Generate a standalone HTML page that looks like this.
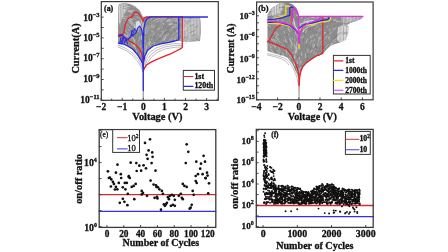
<!DOCTYPE html>
<html><head><meta charset="utf-8"><title>Figure</title>
<style>
html,body{margin:0;padding:0;background:#fff;width:448px;height:252px;overflow:hidden}
svg{display:block}
text{font-family:'Liberation Serif', serif;fill:#111;stroke:#111;stroke-width:0.3px;paint-order:stroke}
</style></head><body>
<svg width="448" height="252" viewBox="0 0 448 252">
<rect width="448" height="252" fill="#fff"/>
<path d="M118 45 L126 48.5 L133 53.5 L138.5 59.5 L142 66 L143.2 71" fill="none" stroke="#a2a2a2" stroke-width="0.7" stroke-linejoin="round" stroke-linecap="round" />
<path d="M118 46.8 L126 50.5 L132 55 L137 60.5 L140.6 66 L143 72" fill="none" stroke="#a2a2a2" stroke-width="0.7" stroke-linejoin="round" stroke-linecap="round" />
<path d="M182 44 L175 43.5 L165 45 L156 48 L149.5 52.5 L146 58 L144.2 65" fill="none" stroke="#a2a2a2" stroke-width="0.7" stroke-linejoin="round" stroke-linecap="round" />
<path d="M182 45.5 L175 45.3 L165 47 L157 50 L151 54.5 L147 60 L144.6 67" fill="none" stroke="#a2a2a2" stroke-width="0.7" stroke-linejoin="round" stroke-linecap="round" />
<path d="M182 47 L175 47.2 L165 49 L158 52 L152 56.5 L148 62 L145 68" fill="none" stroke="#a2a2a2" stroke-width="0.7" stroke-linejoin="round" stroke-linecap="round" />
<path d="M143.3 60 L143.3 98.5" fill="none" stroke="#a8a8a8" stroke-width="1.4" stroke-linejoin="round" stroke-linecap="round" />
<polygon points="143.3,68 142.7,64.5 140.8,60.3 137.7,55.3 132.5,49.5 127.7,46.5 123.4,44.5 118.2,43.5 118,30 118,10 118.8,4.3 123.5,3.3 129.2,3.8 135,6.2 139.7,10.5 142.6,16.2 143.6,17 200,17 201,30 200,41 192,41.5 182,41.5 179.4,40.5 177.7,40.5 174.9,41 169.1,42.4 160.6,43.9 153.4,46 147.7,50.3 144.9,56 143.4,63.1" fill="#8f8f8f" />
<polygon points="181,17 200,17 201,30 199.5,40 196,41.5 194,40 190,42 186,40.5 183,42 181,41" fill="#b0b0b0" />
<path d="M183 19 L183.3 36.9" fill="none" stroke="#e4e4e4" stroke-width="0.6" stroke-linejoin="round" stroke-linecap="round" />
<path d="M186 19 L186.3 36.4" fill="none" stroke="#e4e4e4" stroke-width="0.6" stroke-linejoin="round" stroke-linecap="round" />
<path d="M189 19 L189.3 36.0" fill="none" stroke="#e4e4e4" stroke-width="0.6" stroke-linejoin="round" stroke-linecap="round" />
<path d="M192 19 L192.3 35.5" fill="none" stroke="#e4e4e4" stroke-width="0.6" stroke-linejoin="round" stroke-linecap="round" />
<path d="M195 19 L195.3 35.0" fill="none" stroke="#e4e4e4" stroke-width="0.6" stroke-linejoin="round" stroke-linecap="round" />
<path d="M198 19 L198.3 34.6" fill="none" stroke="#e4e4e4" stroke-width="0.6" stroke-linejoin="round" stroke-linecap="round" />
<polygon points="119,5 121.5,3.2 127.5,3.6 127.5,9 124,14 121,22 118.5,26 118,10" fill="#b0b0b0" />
<path d="M119.5 6 L119.8 24" fill="none" stroke="#e8e8e8" stroke-width="0.7" stroke-linejoin="round" stroke-linecap="round" />
<path d="M122 5 L122.3 18" fill="none" stroke="#e8e8e8" stroke-width="0.7" stroke-linejoin="round" stroke-linecap="round" />
<path d="M124.5 4.5 L124.6 12" fill="none" stroke="#e8e8e8" stroke-width="0.7" stroke-linejoin="round" stroke-linecap="round" />
<path d="M136 22 L138 28" fill="none" stroke="#e8e8e8" stroke-width="0.7" stroke-linejoin="round" stroke-linecap="round" />
<path d="M134 25 L136 31" fill="none" stroke="#e8e8e8" stroke-width="0.7" stroke-linejoin="round" stroke-linecap="round" />
<path d="M162.5 27.0L162.5 27.9M125.1 30.4L125.0 31.6M126.6 40.3L127.5 40.9M148.0 19.4L147.3 20.2M128.7 19.3L127.6 20.2M175.3 36.7L174.5 38.4M165.0 38.0L164.4 40.4M130.3 19.6L130.8 21.0M193.5 25.6L192.0 26.9M130.4 12.5L132.0 13.6M145.1 36.8L143.9 38.2M133.9 6.0L134.0 7.0M125.4 7.0L125.8 9.0M140.5 55.3L142.8 56.4M151.6 25.8L152.3 26.3M141.2 45.7L140.4 46.7M129.6 37.2L128.3 38.4M159.0 28.1L158.3 29.5M176.4 18.3L176.5 20.7M151.7 18.7L151.0 20.3M129.6 15.7L129.9 16.6M144.5 27.1L146.0 28.8M149.9 45.1L150.6 46.5" stroke="#c8c8c8" stroke-width="0.55" fill="none" stroke-linecap="round"/>
<path d="M136.5 43.9L136.1 46.4M122.1 17.6L123.5 18.7M159.2 37.7L159.4 39.9M166.1 32.8L164.1 33.9M178.7 23.3L177.9 25.0M141.6 28.3L143.5 29.0M131.8 29.3L132.8 30.1M189.7 21.3L190.2 22.8M164.4 29.1L164.5 30.6M137.9 29.2L139.4 30.9M152.6 28.7L152.0 29.9M178.8 39.0L178.9 40.1M138.1 22.3L139.3 23.4M143.7 26.4L143.9 27.1M125.1 6.0L123.3 6.9M159.7 37.9L161.5 38.9M140.0 50.5L139.4 51.5M174.1 22.1L174.2 23.8M174.6 29.5L175.0 31.6M144.2 57.7L143.8 58.3M154.2 23.7L152.8 25.4M196.1 38.8L197.9 39.8M131.9 13.8L130.9 14.4M163.7 32.6L162.9 33.7M180.2 30.0L180.1 31.5M130.8 37.1L129.0 38.1M176.5 23.2L176.5 24.0M124.7 18.0L125.2 19.5" stroke="#6e6e6e" stroke-width="0.55" fill="none" stroke-linecap="round"/>
<path d="M130.0 10.9L129.0 11.9M125.1 9.9L125.9 11.1M182.1 37.8L183.0 39.8M148.3 17.6L149.1 18.5M177.9 33.3L179.7 34.4M132.1 11.5L131.2 12.1M168.8 41.9L167.3 42.6M171.9 37.4L172.3 39.8M185.6 36.7L183.8 38.1M162.1 37.2L162.3 38.0M139.5 39.5L137.7 41.2M151.1 34.8L149.2 36.6M160.9 22.4L163.0 23.9M143.5 17.2L144.4 18.1M177.8 35.3L177.4 36.5M186.6 41.1L185.6 43.3M187.4 39.4L186.8 41.3M158.0 34.7L160.2 36.2M198.4 32.4L199.2 33.4M171.5 21.8L170.7 22.3M128.4 35.9L126.9 37.1M161.8 33.6L160.8 34.8M120.8 25.2L120.2 26.6" stroke="#b4b4b4" stroke-width="0.55" fill="none" stroke-linecap="round"/>
<path d="M165.7 37.3L164.4 39.3M124.4 39.4L122.9 41.0M147.5 42.8L148.6 44.1M123.2 7.7L124.0 8.5M127.6 34.9L127.7 37.4M120.3 21.4L119.7 22.5M180.3 34.2L179.5 35.1M138.9 22.3L138.6 23.5M154.8 42.9L154.7 44.6M151.5 30.6L152.7 31.3M119.6 39.1L121.1 39.8M182.7 20.8L182.9 21.8M151.7 38.0L151.7 39.7M125.4 20.2L126.5 21.6M189.6 32.7L189.4 34.1M198.4 20.2L197.5 20.8M118.3 26.9L117.0 27.4M124.4 12.8L123.7 13.9M163.6 23.5L163.6 24.4M124.2 9.1L125.4 10.9M132.2 30.1L132.9 31.2M140.4 52.0L140.1 53.6M118.1 11.4L119.8 12.2M161.8 31.6L163.6 32.8" stroke="#dedede" stroke-width="0.55" fill="none" stroke-linecap="round"/>
<path d="M132.6 18.3L132.7 19.5M133.1 21.5L133.0 22.6M197.0 26.7L195.3 27.8M142.7 44.9L142.0 45.5M155.5 37.8L154.1 38.6M153.9 35.3L154.5 37.6M173.2 27.9L171.7 28.6M119.9 23.0L119.6 24.2M142.1 27.4L140.6 27.9M128.6 30.8L127.1 32.4M161.5 41.0L162.5 42.2M144.3 57.6L144.2 58.8" stroke="#7a7a7a" stroke-width="0.55" fill="none" stroke-linecap="round"/>
<path d="M158.3 20.2L155.3 22.3M169.3 27.5L167.1 28.8M122.5 30.7L124.5 32.7M191.8 32.2L188.0 33.2M139.3 32.5L139.4 35.0M194.9 30.6L191.7 31.7M156.8 27.0L154.3 30.4M168.9 30.6L165.4 32.5M195.5 34.3L192.5 35.5M184.8 28.3L180.9 29.4M136.7 39.9L137.1 42.4M124.4 40.4L127.6 43.1M198.6 25.6L196.1 26.6M125.3 41.5L126.8 43.1M163.3 19.0L159.0 20.0M128.0 41.6L130.3 45.0M135.9 45.0L137.2 48.6M169.5 18.3L167.2 18.6M187.5 36.9L184.4 37.8M132.5 15.2L136.6 15.5M159.5 19.5L155.2 20.3M165.9 25.9L162.9 27.8M157.5 40.4L155.1 44.1M144.1 55.3L143.7 59.8M152.1 41.4L151.1 44.6M138.0 33.1L138.7 35.8M174.2 33.6L171.7 35.4M165.2 34.5L162.7 37.0M126.7 36.4L128.4 38.1M134.6 48.7L135.7 51.1M147.3 39.8L147.2 41.8M122.6 8.5L125.3 8.5M151.7 36.8L150.4 40.9M189.4 21.1L185.2 21.9M141.1 39.8L141.4 42.4M193.6 24.9L189.6 25.8M156.9 19.4L154.3 20.6M134.7 34.3L135.6 38.3M188.5 22.9L185.3 23.3M137.5 36.6L137.7 38.5M122.5 39.9L124.7 43.1M153.7 19.4L152.0 20.1M171.7 32.7L170.3 34.0M156.0 24.6L154.1 26.8M133.8 19.7L135.7 21.5M140.4 18.1L141.7 20.8M138.9 51.0L139.3 54.1M193.0 18.0L189.1 18.9M141.9 56.9L142.7 61.2M176.7 24.8L173.8 26.3M163.6 41.1L162.3 42.6M145.6 39.0L145.8 41.4M176.3 24.8L174.2 25.7" stroke="#707070" stroke-width="0.5" fill="none" stroke-linecap="round"/>
<path d="M148.1 29.8L147.4 33.4M173.0 23.5L170.2 24.9M180.0 20.5L176.1 21.3M119.5 38.1L122.7 40.5M175.6 20.5L171.3 21.3M124.3 18.3L128.6 19.2M192.1 32.5L188.4 33.7M179.3 25.1L175.5 27.2M128.6 26.0L130.0 27.8M141.8 32.0L142.6 36.0M157.9 20.8L154.5 23.2M132.6 10.3L134.4 10.6M180.7 17.3L176.3 17.9M195.5 25.0L191.4 25.7M173.4 33.6L171.9 34.7M126.6 32.1L130.2 34.9M174.3 34.4L172.7 35.8M164.2 19.8L161.6 20.3M141.5 35.4L141.5 39.6M134.0 14.8L137.6 14.3M198.4 17.6L195.1 18.1M172.2 20.0L169.3 21.0M123.4 37.9L124.7 39.2M145.1 44.6L145.0 47.9M172.9 28.6L170.2 29.9M126.3 8.0L128.7 8.3M130.1 27.8L131.4 29.8M121.6 15.8L124.1 16.3M184.7 27.4L181.4 29.1M195.7 28.1L191.9 29.8M176.4 32.6L174.0 33.7M119.4 6.9L121.4 6.6M128.2 10.3L132.3 10.3M193.3 19.9L189.1 19.9M152.9 21.6L151.0 23.3M133.2 18.6L136.0 20.1M120.2 12.9L124.3 13.0M129.7 35.2L131.4 39.0M197.5 20.6L195.1 20.6M153.4 30.8L152.0 32.9M131.4 22.9L134.6 25.8M131.2 10.7L133.6 10.8M123.9 22.8L127.5 25.4M133.6 6.8L135.4 6.9M143.8 25.2L143.7 29.7M125.4 30.7L127.4 32.6M127.9 40.3L129.3 42.2M162.1 24.6L160.5 25.6M147.2 25.4L146.0 28.6M160.5 35.9L158.0 38.6M154.9 24.4L153.1 26.3M178.4 30.5L175.9 31.8M198.5 25.7L195.8 26.3M178.6 20.5L174.5 20.9M182.2 28.1L178.3 29.5M143.8 41.9L143.4 46.1M173.3 34.4L171.8 35.5M158.2 18.9L154.5 20.3" stroke="#bdbdbd" stroke-width="0.5" fill="none" stroke-linecap="round"/>
<path d="M126.1 6.3L130.1 6.8M190.7 37.1L188.8 38.2M133.2 42.8L134.6 46.1M129.3 18.4L132.9 19.7M146.0 19.6L145.3 22.3M134.3 27.3L136.0 29.4M189.5 31.6L186.6 33.1M141.1 20.9L142.6 25.1M136.1 50.4L136.6 52.4M154.4 17.5L152.5 17.7M174.9 26.1L171.8 28.0M182.3 38.4L180.3 39.6M127.9 29.1L129.2 30.5M150.5 41.3L149.3 45.0M168.4 34.4L165.5 36.5M146.8 45.4L146.2 48.6M187.0 28.3L185.3 28.8M152.5 24.4L150.8 26.1M122.1 17.7L124.9 18.7M172.1 23.7L169.4 24.5M189.8 39.7L187.8 40.6M129.4 22.1L132.5 25.0M140.3 24.1L140.9 27.3M161.5 19.4L159.4 20.3M184.8 29.2L182.9 29.7M165.1 17.9L161.2 18.3M130.7 21.2L132.8 22.4M178.0 23.9L175.6 25.2M134.2 44.4L135.2 46.2M141.3 18.9L142.3 21.5M157.2 19.0L153.5 21.1M169.7 19.7L166.9 20.9M142.2 35.8L142.0 38.4M180.0 18.3L177.8 18.3M145.4 39.7L145.0 41.9M124.0 33.4L125.7 35.6M160.2 27.4L157.6 30.0M169.4 20.8L166.9 21.3M175.9 38.8L174.2 39.6M181.1 22.1L177.3 22.8M184.8 28.6L181.4 29.3M187.3 22.8L184.2 23.2M143.6 26.7L143.5 28.7M145.8 29.5L145.4 33.7M133.7 45.8L135.5 48.7M164.3 17.3L162.2 17.8M154.7 26.0L152.9 28.5M159.9 18.2L157.9 19.1" stroke="#e4e4e4" stroke-width="0.5" fill="none" stroke-linecap="round"/>
<path d="M134.1 40.6L135.0 44.7M170.6 19.1L167.9 19.8M195.7 22.1L192.9 23.1M120.6 8.8L124.2 9.2M176.2 25.5L172.9 27.4M131.6 43.8L132.6 45.5M172.0 38.3L169.2 40.1M128.0 10.6L129.9 10.9M190.3 24.7L187.0 25.5M145.3 49.4L145.2 51.9M193.7 21.0L189.7 22.4M142.4 47.9L142.8 51.1M149.9 38.7L149.0 42.2M181.5 30.1L177.5 31.7M171.9 23.9L168.9 24.9M150.2 41.7L148.7 45.1M179.2 29.6L176.2 31.1M149.3 26.6L148.0 29.1M132.9 37.7L134.5 40.7M188.4 26.1L184.8 27.9M122.6 16.2L126.9 16.4M164.2 38.4L161.0 41.2M135.8 22.6L137.3 24.9M193.7 19.0L191.3 19.1M165.9 29.7L162.6 31.7M140.4 18.4L142.5 21.9M175.3 24.3L173.4 24.8M170.8 22.7L168.7 23.8M127.2 19.6L130.5 20.4M138.1 30.2L138.9 32.2M120.7 4.2L122.7 3.9M162.0 21.0L160.3 21.9M124.9 34.4L126.8 36.6M154.7 32.6L152.5 36.1M153.8 25.1L150.8 27.9M127.9 11.4L131.4 11.8M143.3 31.5L143.2 36.0M188.3 36.5L185.4 38.4M188.4 21.5L186.3 21.7M128.8 20.2L131.8 22.2M164.7 39.2L163.3 40.7M166.2 34.5L163.4 37.0M123.0 11.9L125.2 12.2M143.4 19.9L143.1 21.9M162.6 33.5L160.4 36.2M136.8 16.8L139.6 18.0M132.6 37.6L134.9 41.1M180.3 32.4L178.6 33.6M121.2 9.2L124.9 9.5M158.7 20.5L157.0 21.6M200.5 25.3L198.6 25.5M152.2 42.5L151.4 44.3M118.9 15.6L121.1 15.9M179.1 33.8L176.0 35.8M175.5 18.6L172.4 19.2M166.2 18.5L163.6 19.3M193.1 23.3L189.0 23.8M130.4 11.8L132.6 11.7M139.4 36.8L140.0 38.9M188.9 19.1L186.2 19.5M132.2 23.0L135.3 25.1" stroke="#d0d0d0" stroke-width="0.5" fill="none" stroke-linecap="round"/>
<path d="M118.8 34.7 L121.5 34.5 L123.9 33.3 L124.5 28 L125.4 24 L127.8 19 L129.7 17.6 L132.1 16.7 L133.5 14.3 L134.5 12.4 L135.9 11.9 L138.3 13.3 L140.2 15.7 L142.1 19 L143.1 21.6 L144.2 17.8 L146.3 16.8 L182.3 16.8" fill="none" stroke="#e3262b" stroke-width="1.3" stroke-linejoin="round" stroke-linecap="round" />
<path d="M118.8 36 L122 37.5 L126.3 39.6 L132 42.4 L136.3 45.3 L139.9 49.6 L142 54.6 L143.1 60.3 L143.3 66 L143.3 71" fill="none" stroke="#e3262b" stroke-width="1.3" stroke-linejoin="round" stroke-linecap="round" />
<path d="M143.3 71 L144.1 68.9 L146.3 65.3 L150.6 62.4 L156.3 59.6 L163.4 56.7 L170.6 53.9 L176.3 51 L181.6 48.1 L182.3 47.5 L182.3 16.8" fill="none" stroke="#e3262b" stroke-width="1.3" stroke-linejoin="round" stroke-linecap="round" />
<polygon points="136,22 138.5,20.5 140.5,23 140.3,27 138,30 136,31 135.5,27" fill="#dcdcdc" />
<polygon points="140.8,28 142.4,33 143.3,46 144,32 145.2,23.5 143.3,22.5" fill="#b9b9b9" />
<path d="M118.5 36 L120 35.5 L122 35 L124 37 L126 38.5 L128.2 39.3 L130.8 36.8 L132 33.6 L133 36 L134 34.2 L135.9 33 L137.7 28.1 L139.6 26.2 L141.5 29 L142.9 36.7 L143.2 48 L143.3 90.5" fill="none" stroke="#2a2ae6" stroke-width="1.3" stroke-linejoin="round" stroke-linecap="round" />
<path d="M118.4 43 L123.4 44 L127.7 46 L132.5 49 L137.7 54.8 L140.8 59.8 L142.7 64 L143.3 67.4" fill="none" stroke="#2a2ae6" stroke-width="1.3" stroke-linejoin="round" stroke-linecap="round" />
<path d="M120 44 L120.5 38 L122 43 L123 37 L124.5 43 L126 39 L127.5 44" fill="none" stroke="#2a2ae6" stroke-width="1.0" stroke-linejoin="round" stroke-linecap="round" />
<path d="M131 36 L132 30 L133.5 33 L134.5 28 L136 31" fill="none" stroke="#2a2ae6" stroke-width="1.0" stroke-linejoin="round" stroke-linecap="round" />
<path d="M143.3 48 L143.8 29 L145.3 21.4 L147.2 18.6 L150.1 16.9 L178 16.9" fill="none" stroke="#2a2ae6" stroke-width="1.3" stroke-linejoin="round" stroke-linecap="round" />
<path d="M143.3 64 L143.4 63.1 L144.9 56 L147.7 50.3 L153.4 46 L160.6 43.9 L169.1 42.4 L174.9 41 L177.2 40.3 L178.8 39.8 L178.8 17 L207.5 17" fill="none" stroke="#2a2ae6" stroke-width="1.3" stroke-linejoin="round" stroke-linecap="round" />
<rect x="101.3" y="1.6" width="117.00000000000001" height="98.7" fill="none" stroke="#3a3a3a" stroke-width="1.2"/>
<path d="M101.1 100.3 L101.1 98.3" fill="none" stroke="#3a3a3a" stroke-width="0.9" stroke-linejoin="round" stroke-linecap="round" />
<path d="M111.7 100.3 L111.7 99.0" fill="none" stroke="#3a3a3a" stroke-width="0.9" stroke-linejoin="round" stroke-linecap="round" />
<path d="M122.2 100.3 L122.2 98.3" fill="none" stroke="#3a3a3a" stroke-width="0.9" stroke-linejoin="round" stroke-linecap="round" />
<path d="M132.8 100.3 L132.8 99.0" fill="none" stroke="#3a3a3a" stroke-width="0.9" stroke-linejoin="round" stroke-linecap="round" />
<path d="M143.3 100.3 L143.3 98.3" fill="none" stroke="#3a3a3a" stroke-width="0.9" stroke-linejoin="round" stroke-linecap="round" />
<path d="M153.9 100.3 L153.9 99.0" fill="none" stroke="#3a3a3a" stroke-width="0.9" stroke-linejoin="round" stroke-linecap="round" />
<path d="M164.4 100.3 L164.4 98.3" fill="none" stroke="#3a3a3a" stroke-width="0.9" stroke-linejoin="round" stroke-linecap="round" />
<path d="M175.0 100.3 L175.0 99.0" fill="none" stroke="#3a3a3a" stroke-width="0.9" stroke-linejoin="round" stroke-linecap="round" />
<path d="M185.5 100.3 L185.5 98.3" fill="none" stroke="#3a3a3a" stroke-width="0.9" stroke-linejoin="round" stroke-linecap="round" />
<path d="M196.1 100.3 L196.1 99.0" fill="none" stroke="#3a3a3a" stroke-width="0.9" stroke-linejoin="round" stroke-linecap="round" />
<path d="M206.6 100.3 L206.6 98.3" fill="none" stroke="#3a3a3a" stroke-width="0.9" stroke-linejoin="round" stroke-linecap="round" />
<path d="M217.2 100.3 L217.2 99.0" fill="none" stroke="#3a3a3a" stroke-width="0.9" stroke-linejoin="round" stroke-linecap="round" />
<path d="M101.3 100.3 L103.3 100.3" fill="none" stroke="#3a3a3a" stroke-width="0.9" stroke-linejoin="round" stroke-linecap="round" />
<path d="M101.3 89.9 L103.3 89.9" fill="none" stroke="#3a3a3a" stroke-width="0.9" stroke-linejoin="round" stroke-linecap="round" />
<path d="M101.3 79.5 L103.3 79.5" fill="none" stroke="#3a3a3a" stroke-width="0.9" stroke-linejoin="round" stroke-linecap="round" />
<path d="M101.3 69.1 L103.3 69.1" fill="none" stroke="#3a3a3a" stroke-width="0.9" stroke-linejoin="round" stroke-linecap="round" />
<path d="M101.3 58.7 L103.3 58.7" fill="none" stroke="#3a3a3a" stroke-width="0.9" stroke-linejoin="round" stroke-linecap="round" />
<path d="M101.3 48.3 L103.3 48.3" fill="none" stroke="#3a3a3a" stroke-width="0.9" stroke-linejoin="round" stroke-linecap="round" />
<path d="M101.3 37.9 L103.3 37.9" fill="none" stroke="#3a3a3a" stroke-width="0.9" stroke-linejoin="round" stroke-linecap="round" />
<path d="M101.3 27.5 L103.3 27.5" fill="none" stroke="#3a3a3a" stroke-width="0.9" stroke-linejoin="round" stroke-linecap="round" />
<path d="M101.3 17.1 L103.3 17.1" fill="none" stroke="#3a3a3a" stroke-width="0.9" stroke-linejoin="round" stroke-linecap="round" />
<rect x="183.3" y="70.4" width="31.2" height="19.8" fill="#fff" stroke="#333" stroke-width="1"/>
<path d="M183.5 76.5 L192.9 76.5" fill="none" stroke="#e3262b" stroke-width="1.1" stroke-linejoin="round" stroke-linecap="round" />
<path d="M183.5 86.4 L192.9 86.4" fill="none" stroke="#2a2ae6" stroke-width="1.1" stroke-linejoin="round" stroke-linecap="round" />
<text x="194.4" y="78.5" font-size="7.9" font-weight="bold" text-anchor="start" >1st</text>
<text x="194.4" y="88.3" font-size="7.9" font-weight="bold" text-anchor="start" >120th</text>
<text x="104" y="10.7" font-size="7.9" font-weight="bold" text-anchor="start" >(a)</text>
<text x="101.1" y="110.4" font-size="9.5" font-weight="bold" text-anchor="middle" >−2</text>
<text x="122.2" y="110.4" font-size="9.5" font-weight="bold" text-anchor="middle" >−1</text>
<text x="143.3" y="110.4" font-size="9.5" font-weight="bold" text-anchor="middle" >0</text>
<text x="164.4" y="110.4" font-size="9.5" font-weight="bold" text-anchor="middle" >1</text>
<text x="185.5" y="110.4" font-size="9.5" font-weight="bold" text-anchor="middle" >2</text>
<text x="206.6" y="110.4" font-size="9.5" font-weight="bold" text-anchor="middle" >3</text>
<text x="99.6" y="20.6" font-size="9.5" font-weight="bold" text-anchor="end">10<tspan dy="-4" font-size="6.5">−3</tspan></text>
<text x="99.6" y="40.6" font-size="9.5" font-weight="bold" text-anchor="end">10<tspan dy="-4" font-size="6.5">−5</tspan></text>
<text x="99.6" y="61.0" font-size="9.5" font-weight="bold" text-anchor="end">10<tspan dy="-4" font-size="6.5">−7</tspan></text>
<text x="99.6" y="82.0" font-size="9.5" font-weight="bold" text-anchor="end">10<tspan dy="-4" font-size="6.5">−9</tspan></text>
<text x="99.6" y="103.4" font-size="9.5" font-weight="bold" text-anchor="end">10<tspan dy="-4" font-size="6.5">−11</tspan></text>
<text x="157.4" y="119.8" font-size="10.4" font-weight="bold" text-anchor="middle" >Voltage (V)</text>
<text x="0" y="0" font-size="10.3" font-weight="bold" text-anchor="middle" dominant-baseline="central" transform="translate(75.0,48.5) rotate(-90)">Current(A)</text>
<path d="M267.5 53.5 L276 55.5 L283 57.5 L287 59.5 L290 63 L292.5 67 L294.8 72 L296.8 77 L298.5 85 L299.1 92" fill="none" stroke="#a6a6a6" stroke-width="0.7" stroke-linejoin="round" stroke-linecap="round" />
<path d="M267.5 55 L276 57 L282 59 L286 61.5 L289 65" fill="none" stroke="#a6a6a6" stroke-width="0.7" stroke-linejoin="round" stroke-linecap="round" />
<path d="M299.1 80 L299.1 98.5" fill="none" stroke="#a8a8a8" stroke-width="1.3" stroke-linejoin="round" stroke-linecap="round" />
<polygon points="267.5,51 267.5,15 269,12 272,8 277,5 280,3 288,2.8 293,4.5 296.5,8 298.3,12 299,16 363,16 362,18.5 356,21 350,23 347,25 348.5,27 348,34 345,40 340,42.5 335,44 330,46.2 326.5,49.5 323.5,53.5 320,55.2 316.4,56.4 312.8,58.8 309.2,61.2 305.6,64.1 302.7,67.7 301,71.8 300.3,75 299.8,80 299.4,88 299.1,88 298.8,82 298.3,78 296.8,73.6 295,69.4 292.7,64.7 290.3,61.1 287.3,57.5 283,55.7 275,53.5" fill="#8c8c8c" />
<polygon points="270,10 272,8 277,5 280,3 284,3 283,9 280,14 272,16" fill="#b4b4b4" />
<path d="M273 8 L273 15" fill="none" stroke="#ececec" stroke-width="0.7" stroke-linejoin="round" stroke-linecap="round" />
<path d="M275.5 6 L275.5 14" fill="none" stroke="#ececec" stroke-width="0.7" stroke-linejoin="round" stroke-linecap="round" />
<path d="M278 5 L278 13" fill="none" stroke="#ececec" stroke-width="0.7" stroke-linejoin="round" stroke-linecap="round" />
<path d="M281 4 L281 10" fill="none" stroke="#ececec" stroke-width="0.7" stroke-linejoin="round" stroke-linecap="round" />
<polygon points="341,16.3 363,16 362,18.5 356,21 350,23 347,25 341,26" fill="#a6a6a6" />
<path d="M344 17.5 L343.5 25.0" fill="none" stroke="#dadada" stroke-width="0.6" stroke-linejoin="round" stroke-linecap="round" />
<path d="M347.5 17.5 L347.0 23.6" fill="none" stroke="#dadada" stroke-width="0.6" stroke-linejoin="round" stroke-linecap="round" />
<path d="M351 17.5 L350.5 22.2" fill="none" stroke="#dadada" stroke-width="0.6" stroke-linejoin="round" stroke-linecap="round" />
<path d="M354.5 17.5 L354.0 20.8" fill="none" stroke="#dadada" stroke-width="0.6" stroke-linejoin="round" stroke-linecap="round" />
<path d="M358 17.5 L357.5 19.4" fill="none" stroke="#dadada" stroke-width="0.6" stroke-linejoin="round" stroke-linecap="round" />
<polygon points="338,27 343,25.5 348.5,27 348,34 345,40 340,42.5 337,40" fill="#d4d4d4" />
<path d="M340 27 L340 41" fill="none" stroke="#9a9a9a" stroke-width="0.6" stroke-linejoin="round" stroke-linecap="round" />
<path d="M343.5 26.5 L343.5 40" fill="none" stroke="#9a9a9a" stroke-width="0.6" stroke-linejoin="round" stroke-linecap="round" />
<path d="M346.5 27.5 L346.5 36" fill="none" stroke="#9a9a9a" stroke-width="0.6" stroke-linejoin="round" stroke-linecap="round" />
<path d="M338 33 L348 33" fill="none" stroke="#9a9a9a" stroke-width="0.6" stroke-linejoin="round" stroke-linecap="round" />
<path d="M293.5 19 L295 26 L297.5 30" fill="none" stroke="#eeeeee" stroke-width="1.0" stroke-linejoin="round" stroke-linecap="round" />
<path d="M301.5 28 Q305 21.5 313 20.5" fill="none" stroke="#f2f2f2" stroke-width="0.9" stroke-linejoin="round" stroke-linecap="round" />
<path d="M302.5 32 Q307 25.5 316 24.8" fill="none" stroke="#e8e8e8" stroke-width="0.8" stroke-linejoin="round" stroke-linecap="round" />
<path d="M295.5 31 Q292 25 286 23.8" fill="none" stroke="#e4e4e4" stroke-width="0.7" stroke-linejoin="round" stroke-linecap="round" />
<path d="M301 24 L306 21.5 L314 20.5" fill="none" stroke="#e6e6e6" stroke-width="0.9" stroke-linejoin="round" stroke-linecap="round" />
<path d="M302 27 L308 24.5 L316 23.5" fill="none" stroke="#e0e0e0" stroke-width="0.7" stroke-linejoin="round" stroke-linecap="round" />
<path d="M268.1 27.7L270.2 28.8M297.3 64.6L295.1 65.5M285.9 33.8L288.1 34.8M291.2 56.1L291.6 57.5M269.8 22.7L268.3 23.5M324.4 46.4L325.5 47.4M292.8 10.0L292.8 10.9M329.0 36.1L327.7 36.8M279.9 7.2L279.2 8.0M310.2 40.1L309.9 41.0M325.8 24.3L325.4 25.6M326.3 23.0L327.3 24.1M278.5 48.0L279.1 49.8M325.0 43.4L324.2 44.4M307.8 57.8L308.5 59.1M329.2 32.5L330.3 33.4M281.0 54.2L280.2 55.5M323.2 22.3L324.1 23.0M297.4 56.3L297.6 57.3M291.4 38.9L290.9 40.4M293.7 36.9L293.9 37.7M296.5 36.9L294.2 37.9M342.3 22.4L341.4 24.3M291.4 11.4L292.0 12.3M320.5 25.3L321.5 26.1M327.2 31.6L328.0 33.9M315.6 25.9L314.0 26.6M292.1 28.5L292.8 29.9" stroke="#6e6e6e" stroke-width="0.55" fill="none" stroke-linecap="round"/>
<path d="M345.8 22.5L345.1 23.4M326.4 25.1L327.3 27.0M347.8 27.8L348.4 29.6M277.3 43.2L275.6 44.8M288.3 34.2L289.0 35.0M329.9 36.7L328.7 37.2M271.4 50.7L273.4 51.6M278.7 53.9L278.2 55.6M329.5 29.1L329.8 30.3M344.9 36.9L345.2 37.8M281.2 45.6L282.8 47.4M327.6 36.4L328.9 38.3M288.7 27.6L289.1 29.5M289.2 58.4L290.0 58.7M296.5 47.4L296.9 49.1M335.1 41.2L335.8 41.8M295.6 31.5L296.1 32.7M318.9 21.3L320.8 22.5M299.4 57.6L299.4 59.6M325.1 32.5L324.0 33.0M277.2 35.5L275.5 37.5M322.4 48.9L322.3 51.0M312.3 50.7L311.2 51.2M332.3 43.8L330.8 45.5M315.1 48.8L317.3 49.6M312.2 50.7L310.7 52.1M300.2 24.2L300.6 25.0" stroke="#dedede" stroke-width="0.55" fill="none" stroke-linecap="round"/>
<path d="M285.1 41.1L286.0 43.0M298.9 18.6L297.5 20.7M283.7 3.0L284.1 4.3M295.9 64.3L294.6 65.7M320.3 30.6L318.2 32.1M345.7 37.6L345.3 39.1M277.2 36.5L276.6 38.2M316.9 44.8L318.0 45.2M318.3 37.4L319.3 38.0M329.3 38.2L329.3 40.1M310.7 22.1L311.3 22.8M322.0 29.0L321.6 30.1M281.0 5.2L280.6 6.0M277.7 20.3L278.6 20.7M270.5 47.0L270.6 48.0M283.8 2.9L283.1 3.8M301.5 37.0L300.2 37.9M309.2 21.8L310.4 24.0M290.9 28.5L291.2 30.2M330.5 33.7L328.6 35.3M332.1 18.2L331.5 19.5M320.4 37.4L320.9 39.2M268.1 19.0L267.4 21.4M277.2 18.2L276.6 18.9" stroke="#c8c8c8" stroke-width="0.55" fill="none" stroke-linecap="round"/>
<path d="M297.0 71.3L296.5 72.1M284.0 14.1L282.7 15.1M345.8 37.4L346.1 39.8M283.9 8.5L283.0 9.7M282.4 33.4L281.5 33.8M311.9 40.9L310.6 42.2M276.3 40.5L277.8 41.2M272.7 45.7L271.4 46.4M278.0 14.0L279.2 16.1M322.6 33.5L322.9 35.6M323.8 20.2L323.9 22.1M268.7 49.7L270.6 51.3M275.7 46.0L274.7 46.6M294.9 11.3L294.4 12.1M267.9 44.6L266.8 45.9M322.7 16.3L320.7 17.4M283.7 40.2L283.3 42.3M296.3 62.7L298.0 64.3M309.0 19.5L310.6 20.6M277.7 24.2L277.1 25.2M317.3 37.8L319.0 39.7M311.6 16.8L313.8 18.0M343.4 38.0L341.9 40.1M320.7 44.1L319.6 46.2" stroke="#b4b4b4" stroke-width="0.55" fill="none" stroke-linecap="round"/>
<path d="M286.5 23.9L287.5 24.7M285.5 8.3L286.2 9.3M271.4 27.8L272.1 28.6M286.0 9.2L287.3 10.4M302.9 45.8L303.5 46.7M297.5 54.6L299.2 55.6M286.2 43.1L287.9 43.9M320.5 52.2L322.5 53.6M295.8 46.8L294.6 47.3M305.9 25.3L305.6 26.1M292.6 7.3L291.8 9.0M298.7 77.8L299.5 78.9M321.5 17.4L322.2 17.9M289.8 42.1L288.8 43.5M275.6 50.9L274.4 51.6M343.1 31.0L343.8 32.2M321.6 52.1L321.6 54.5" stroke="#7a7a7a" stroke-width="0.55" fill="none" stroke-linecap="round"/>
<path d="M270.3 42.5L272.1 45.5M278.3 42.8L280.2 45.4M350.7 20.6L346.5 21.9M273.8 33.1L276.5 35.6M344.1 31.3L340.4 33.8M286.2 52.8L286.8 55.0M281.2 4.8L285.6 5.1M318.4 26.1L315.2 28.4M291.6 41.6L291.9 45.8M280.4 27.7L281.6 29.6M294.2 51.5L295.0 54.2M295.6 51.2L295.7 53.8M292.6 49.8L293.6 53.5M272.6 15.6L276.2 16.4M284.7 8.2L287.0 7.8M295.3 60.3L295.4 62.5M358.2 19.4L354.7 19.6M311.5 39.8L310.2 43.4M271.1 17.2L274.8 17.3M313.1 42.9L312.3 44.7M343.8 33.7L340.6 35.5M335.7 28.9L333.4 29.9M325.8 20.6L321.9 22.1M287.8 28.8L289.6 31.8M308.8 18.1L305.1 19.8M276.3 33.1L277.3 34.6M342.1 38.8L338.1 40.8M319.8 40.6L317.0 44.0M269.0 20.8L272.6 21.7M312.0 16.0L309.5 16.7M281.4 25.6L283.7 27.9M298.4 33.7L298.9 36.4M283.5 10.4L287.0 10.4M295.1 47.4L295.6 50.2M318.6 43.6L317.8 45.8M267.8 39.1L269.4 40.7M326.0 42.4L323.8 45.1M283.9 36.5L285.1 38.1M335.2 39.7L332.3 41.8M296.7 33.9L296.9 37.3M273.9 9.7L276.5 9.9M341.9 28.9L338.9 30.7M286.2 5.6L288.6 5.6M297.5 34.2L298.4 37.8M324.1 30.3L322.2 32.2M323.3 26.8L321.4 28.1M294.2 42.9L294.5 46.4M354.7 18.2L352.4 18.4M293.3 57.3L293.8 59.4M299.1 61.1L299.3 64.6M289.5 55.1L289.9 57.0M313.5 44.6L312.4 46.8M286.9 49.5L288.7 53.6M296.8 42.5L296.5 46.7M326.5 38.0L324.1 40.0M272.3 39.1L274.2 41.9M301.1 61.3L300.6 64.2M316.8 34.6L315.5 37.2M276.0 15.4L279.7 15.3M294.7 36.6L295.1 40.4M319.8 52.9L318.7 54.8M323.8 41.8L322.1 44.2M300.5 23.5L300.3 27.9M318.8 23.0L317.3 24.1M323.7 22.9L320.2 25.4" stroke="#bdbdbd" stroke-width="0.5" fill="none" stroke-linecap="round"/>
<path d="M268.8 21.3L272.9 22.4M311.6 46.5L310.5 48.7M284.4 9.5L288.1 9.0M282.9 6.9L286.1 7.5M313.2 27.6L312.1 29.4M268.6 49.4L271.1 52.0M346.6 32.6L342.8 34.2M317.0 47.9L315.7 51.7M323.9 23.1L322.2 23.7M328.8 34.3L326.7 36.9M319.0 30.5L316.6 32.8M308.7 22.1L306.3 25.8M308.3 51.8L307.3 55.2M329.4 43.1L328.1 44.8M276.2 13.4L278.7 13.5M313.4 30.3L312.3 31.9M267.5 42.9L269.5 45.7M332.5 18.5L330.6 19.0M283.1 23.3L286.1 26.4M336.9 25.9L334.2 27.2M276.3 43.0L278.0 46.0M288.0 4.3L291.1 4.3M280.7 44.0L281.7 46.3M293.1 54.4L293.4 56.6M314.7 32.5L313.8 34.8M316.5 45.5L314.9 48.8M300.2 69.7L300.1 74.2M274.8 38.0L277.3 40.6M285.6 42.7L287.3 46.6M299.6 34.1L299.2 37.5M339.2 19.4L337.1 20.0M288.1 38.7L289.1 42.6M283.7 41.8L285.2 44.2M294.6 11.8L297.2 11.7M292.6 49.3L292.8 51.4M304.3 32.3L304.2 34.9M296.3 17.0L297.3 18.8M292.2 28.2L294.0 31.6M309.3 46.9L308.8 49.2M294.7 67.2L295.8 70.9M296.3 18.1L297.5 21.9M309.3 26.0L307.1 29.8M280.8 7.4L283.8 7.8M328.2 24.6L325.4 26.7M319.3 50.1L318.6 51.9M295.2 19.4L295.7 21.2M282.7 44.9L284.9 48.2M348.9 23.1L345.4 23.7M309.0 28.9L307.7 31.4M277.7 41.8L279.8 45.1M337.1 35.9L334.0 39.0M333.3 21.3L330.5 22.3M307.2 59.0L306.1 63.0M289.4 27.9L290.1 29.8M303.5 38.0L303.4 41.5M275.9 32.0L278.6 34.4M298.5 73.5L298.6 75.4M270.8 41.7L272.7 43.6M311.2 26.5L310.0 29.1M297.6 19.4L298.9 23.5M278.8 35.0L280.3 36.8M299.7 37.8L299.4 40.4M268.8 16.9L272.7 16.9M269.5 22.3L273.5 23.7M307.3 43.7L306.5 45.8M298.4 63.6L298.2 65.6M345.0 23.4L341.8 24.2M316.0 36.0L314.6 39.3M322.7 27.6L321.2 28.8M338.5 34.5L335.0 36.5M292.5 9.3L295.9 8.8M317.1 20.7L313.9 22.3M315.6 45.1L315.0 47.2M325.2 45.4L323.0 48.1M298.7 32.7L298.4 36.3M312.4 25.9L310.0 29.5" stroke="#707070" stroke-width="0.5" fill="none" stroke-linecap="round"/>
<path d="M302.0 16.9L301.0 18.6M276.2 31.8L278.9 35.1M293.8 62.7L295.0 66.1M277.7 39.8L280.3 42.9M326.7 17.2L322.4 17.9M350.4 18.1L347.2 18.5M301.5 52.9L301.7 55.5M347.3 25.4L343.6 26.0M295.1 45.4L295.2 48.2M312.5 22.1L311.2 23.8M320.0 28.5L318.0 30.9M282.7 53.4L283.5 55.9M307.2 30.0L305.7 32.7M269.0 13.5L272.7 13.3M308.1 48.9L307.8 52.7M310.8 35.9L310.4 37.7M303.3 35.7L302.7 37.8M331.8 43.0L330.2 44.3M283.7 5.6L287.7 6.1M314.5 24.0L311.6 26.6M341.0 35.2L339.4 36.1M273.8 17.2L277.4 17.5M305.0 21.2L304.1 23.3M316.4 52.8L315.5 55.5M318.0 20.5L315.5 21.5M307.3 39.0L306.2 43.1M295.7 50.1L295.9 53.1M273.4 44.1L275.5 47.9M277.4 11.6L279.7 11.2M307.7 23.1L306.6 24.7M352.0 19.5L348.2 20.8M285.1 39.4L286.9 42.7M277.3 13.3L280.6 13.8M272.8 20.9L274.7 21.7M327.3 35.9L325.5 37.6M296.5 47.5L296.8 51.5M347.3 27.8L345.2 29.1M283.9 31.3L284.9 33.2M277.4 38.3L278.6 39.7M328.5 44.4L325.4 47.4M287.1 22.9L290.4 25.7M317.6 20.0L313.9 21.5M314.1 34.1L311.8 37.1M305.5 53.8L305.3 57.6M299.4 68.4L299.3 72.0M289.8 38.1L290.9 40.9M278.9 15.5L282.8 15.4M277.5 50.4L279.3 53.1M296.2 15.2L298.5 15.8M292.2 22.1L293.4 24.3M303.6 29.6L303.4 31.8M339.9 30.8L337.4 32.7M278.4 47.6L280.1 51.0M294.9 55.5L295.0 58.1M314.9 38.7L313.7 41.3M340.0 21.2L336.4 21.9M298.7 79.2L298.8 81.2M270.9 38.1L272.5 40.4M314.8 44.8L314.1 46.7" stroke="#e4e4e4" stroke-width="0.5" fill="none" stroke-linecap="round"/>
<path d="M342.7 34.0L341.2 34.9M300.3 24.1L300.1 26.3M296.4 49.9L296.3 52.5M319.9 38.2L318.1 41.3M325.6 32.7L324.2 33.8M336.4 27.1L332.5 29.3M300.9 60.9L300.6 63.0M307.0 16.5L305.2 17.1M298.4 42.2L298.8 45.7M300.4 66.9L300.4 68.8M291.9 37.5L292.5 39.4M275.6 39.3L276.9 41.4M322.4 40.5L320.0 43.2M270.8 49.0L271.8 50.6M272.3 13.9L276.5 13.7M289.6 39.3L290.5 41.9M280.2 3.1L282.9 3.0M276.0 12.2L280.3 12.0M291.5 41.8L292.3 44.9M305.1 19.0L303.7 21.4M299.4 21.1L299.6 25.3M345.6 34.6L343.0 36.3M314.7 51.0L313.8 53.9M300.0 72.2L300.0 74.4M324.2 51.0L322.4 53.1M326.0 21.7L323.9 22.2M283.7 45.6L284.4 48.2M295.5 31.5L295.4 34.4M330.2 18.2L326.2 19.4M332.0 31.8L329.4 33.5M273.8 31.8L276.0 33.5M337.5 20.1L333.8 20.8M285.8 48.3L286.5 51.0M268.2 15.5L270.2 15.5M334.4 42.6L331.1 45.2M318.8 17.3L315.9 18.1M337.2 37.5L334.2 40.3M297.1 60.5L297.7 63.7M288.2 28.7L289.8 31.7M297.1 42.0L296.8 45.2M268.4 15.0L271.7 14.8M348.4 17.9L345.8 18.2M290.8 45.3L291.4 48.4M320.7 35.5L319.1 37.5M290.5 55.2L292.0 58.5M275.1 18.7L278.2 19.6M286.0 49.5L287.1 53.1M281.5 44.3L283.0 47.6M273.7 39.1L275.8 42.9M314.6 44.8L313.2 47.8M267.8 24.9L270.7 27.2M268.2 43.7L270.9 47.3M296.9 69.0L297.4 71.9M317.3 34.0L316.5 35.7M294.2 58.7L294.2 62.3M308.4 19.4L306.9 20.9M314.5 17.3L310.3 17.9M335.5 19.3L333.3 19.8M294.4 56.1L294.6 58.5M281.8 20.0L283.4 21.0" stroke="#d0d0d0" stroke-width="0.5" fill="none" stroke-linecap="round"/>
<path d="M280.8 24.8 L276 28 L273.9 31.8 L270.9 37 L269.5 40 L267.4 41.7 L271.5 42.9 L276.3 44.7 L282.2 47.1 L286.8 49.2 L291 54 L295.1 62.2 L297.5 68.6 L298.7 74.1 L299.1 80 L299.1 85" fill="none" stroke="#e3262b" stroke-width="1.3" stroke-linejoin="round" stroke-linecap="round" />
<path d="M299.1 85 L299.6 78 L300.2 74 L300.8 71.4 L302.5 67.2 L305.5 63.6 L309.1 60.7 L312.7 58.3 L316.2 55.9 L319.8 54.7 L322.8 53 L322.8 16.3" fill="none" stroke="#e3262b" stroke-width="1.3" stroke-linejoin="round" stroke-linecap="round" />
<path d="M291.4 10.5 L291.4 24" fill="none" stroke="#d8562a" stroke-width="1.0" stroke-linejoin="round" stroke-linecap="round" />
<path d="M267.9 23.3 L280.8 23.8 L290 26.5 L296 30.5 L299 33.7" fill="none" stroke="#f2e21e" stroke-width="1.3" stroke-linejoin="round" stroke-linecap="round" />
<path d="M299 30.6 L304.5 25.6 L312 24.3 L319.9 22.1 L326.3 21.3 L329.5 20.5 L330.5 18.7 L330.5 16.8" fill="none" stroke="#f2e21e" stroke-width="1.3" stroke-linejoin="round" stroke-linecap="round" />
<path d="M267.9 20.3 L273.9 18.8 L279.9 16.9 L283.8 15.9 L285.8 15 L285.8 6.3 L289.5 6.3" fill="none" stroke="#f2e21e" stroke-width="1.3" stroke-linejoin="round" stroke-linecap="round" />
<path d="M267.9 22.3 L280 22.3 L290 25.5 L295.7 30.3 L299 34.7" fill="none" stroke="#2a2ae6" stroke-width="1.3" stroke-linejoin="round" stroke-linecap="round" />
<path d="M299 28.2 L305 24.2 L312 23.1 L319.9 20.9 L323.9 20.1 L327.9 19.5 L329.1 18.3 L329.1 16.5" fill="none" stroke="#2a2ae6" stroke-width="1.3" stroke-linejoin="round" stroke-linecap="round" />
<path d="M267.9 19.6 L275 19.2 L281.8 17.9 L287.8 15.9 L289.8 15.5 L289.8 7.9 L291.8 6.9 L294.7 8.9" fill="none" stroke="#2a2ae6" stroke-width="1.3" stroke-linejoin="round" stroke-linecap="round" />
<path d="M267.9 21 L275.9 22 L285.4 23 L291.4 25.5 L296.1 29.8 L298.6 34 L299 37 L299 45" fill="none" stroke="#e030e0" stroke-width="1.3" stroke-linejoin="round" stroke-linecap="round" />
<path d="M299 36.7 L302.6 26.8 L308.6 23.2 L312 21.9 L316.8 20.3 L319.9 19.5 L320.3 16.5" fill="none" stroke="#e030e0" stroke-width="1.3" stroke-linejoin="round" stroke-linecap="round" />
<path d="M292.6 21 L292.6 9 L293.8 8 L296.7 11 L298.6 16 L298.9 45" fill="none" stroke="#e030e0" stroke-width="1.3" stroke-linejoin="round" stroke-linecap="round" />
<path d="M299.3 16.3 L362.9 16.3" fill="none" stroke="#e030e0" stroke-width="1.3" stroke-linejoin="round" stroke-linecap="round" />
<path d="M299 44.5 L299 48.5" fill="none" stroke="#f2e21e" stroke-width="1.5" stroke-linejoin="round" stroke-linecap="round" />
<rect x="256.6" y="2.0" width="116.5" height="97.8" fill="none" stroke="#3a3a3a" stroke-width="1.2"/>
<path d="M256.4 99.8 L256.4 97.8" fill="none" stroke="#3a3a3a" stroke-width="0.9" stroke-linejoin="round" stroke-linecap="round" />
<path d="M277.6 99.8 L277.6 97.8" fill="none" stroke="#3a3a3a" stroke-width="0.9" stroke-linejoin="round" stroke-linecap="round" />
<path d="M298.8 99.8 L298.8 97.8" fill="none" stroke="#3a3a3a" stroke-width="0.9" stroke-linejoin="round" stroke-linecap="round" />
<path d="M320.0 99.8 L320.0 97.8" fill="none" stroke="#3a3a3a" stroke-width="0.9" stroke-linejoin="round" stroke-linecap="round" />
<path d="M341.2 99.8 L341.2 97.8" fill="none" stroke="#3a3a3a" stroke-width="0.9" stroke-linejoin="round" stroke-linecap="round" />
<path d="M362.4 99.8 L362.4 97.8" fill="none" stroke="#3a3a3a" stroke-width="0.9" stroke-linejoin="round" stroke-linecap="round" />
<path d="M256.6 99.8 L258.6 99.8" fill="none" stroke="#3a3a3a" stroke-width="0.9" stroke-linejoin="round" stroke-linecap="round" />
<path d="M256.6 92.8 L258.6 92.8" fill="none" stroke="#3a3a3a" stroke-width="0.9" stroke-linejoin="round" stroke-linecap="round" />
<path d="M256.6 85.8 L258.6 85.8" fill="none" stroke="#3a3a3a" stroke-width="0.9" stroke-linejoin="round" stroke-linecap="round" />
<path d="M256.6 78.8 L258.6 78.8" fill="none" stroke="#3a3a3a" stroke-width="0.9" stroke-linejoin="round" stroke-linecap="round" />
<path d="M256.6 71.8 L258.6 71.8" fill="none" stroke="#3a3a3a" stroke-width="0.9" stroke-linejoin="round" stroke-linecap="round" />
<path d="M256.6 64.8 L258.6 64.8" fill="none" stroke="#3a3a3a" stroke-width="0.9" stroke-linejoin="round" stroke-linecap="round" />
<path d="M256.6 57.8 L258.6 57.8" fill="none" stroke="#3a3a3a" stroke-width="0.9" stroke-linejoin="round" stroke-linecap="round" />
<path d="M256.6 50.8 L258.6 50.8" fill="none" stroke="#3a3a3a" stroke-width="0.9" stroke-linejoin="round" stroke-linecap="round" />
<path d="M256.6 43.8 L258.6 43.8" fill="none" stroke="#3a3a3a" stroke-width="0.9" stroke-linejoin="round" stroke-linecap="round" />
<path d="M256.6 36.8 L258.6 36.8" fill="none" stroke="#3a3a3a" stroke-width="0.9" stroke-linejoin="round" stroke-linecap="round" />
<path d="M256.6 29.8 L258.6 29.8" fill="none" stroke="#3a3a3a" stroke-width="0.9" stroke-linejoin="round" stroke-linecap="round" />
<path d="M256.6 22.8 L258.6 22.8" fill="none" stroke="#3a3a3a" stroke-width="0.9" stroke-linejoin="round" stroke-linecap="round" />
<path d="M256.6 15.8 L258.6 15.8" fill="none" stroke="#3a3a3a" stroke-width="0.9" stroke-linejoin="round" stroke-linecap="round" />
<rect x="333.4" y="55.4" width="36.8" height="38.6" fill="#fff" stroke="#333" stroke-width="1"/>
<path d="M333.6 60.9 L342.9 60.9" fill="none" stroke="#e3262b" stroke-width="1.1" stroke-linejoin="round" stroke-linecap="round" />
<path d="M333.6 70.4 L342.9 70.4" fill="none" stroke="#2a2ae6" stroke-width="1.1" stroke-linejoin="round" stroke-linecap="round" />
<path d="M333.6 80.4 L342.9 80.4" fill="none" stroke="#f2e21e" stroke-width="1.1" stroke-linejoin="round" stroke-linecap="round" />
<path d="M333.6 90.3 L342.9 90.3" fill="none" stroke="#e030e0" stroke-width="1.1" stroke-linejoin="round" stroke-linecap="round" />
<text x="345.3" y="63.3" font-size="7.5" font-weight="bold" text-anchor="start" >1st</text>
<text x="345.3" y="72.8" font-size="7.5" font-weight="bold" text-anchor="start" >1000th</text>
<text x="345.3" y="82.8" font-size="7.5" font-weight="bold" text-anchor="start" >2000th</text>
<text x="345.3" y="92.6" font-size="7.5" font-weight="bold" text-anchor="start" >2700th</text>
<text x="258.2" y="11.3" font-size="8.5" font-weight="bold" text-anchor="start" >(b)</text>
<text x="256.4" y="110.3" font-size="9.5" font-weight="bold" text-anchor="middle" >−4</text>
<text x="277.6" y="110.3" font-size="9.5" font-weight="bold" text-anchor="middle" >−2</text>
<text x="298.8" y="110.3" font-size="9.5" font-weight="bold" text-anchor="middle" >0</text>
<text x="320.0" y="110.3" font-size="9.5" font-weight="bold" text-anchor="middle" >2</text>
<text x="341.2" y="110.3" font-size="9.5" font-weight="bold" text-anchor="middle" >4</text>
<text x="362.4" y="110.3" font-size="9.5" font-weight="bold" text-anchor="middle" >6</text>
<text x="254.8" y="18.6" font-size="9" font-weight="bold" text-anchor="end">10<tspan dy="-4" font-size="6">−3</tspan></text>
<text x="254.8" y="40.2" font-size="9" font-weight="bold" text-anchor="end">10<tspan dy="-4" font-size="6">−6</tspan></text>
<text x="254.8" y="61.6" font-size="9" font-weight="bold" text-anchor="end">10<tspan dy="-4" font-size="6">−9</tspan></text>
<text x="254.8" y="83.0" font-size="9" font-weight="bold" text-anchor="end">10<tspan dy="-4" font-size="6">−12</tspan></text>
<text x="254.8" y="102.6" font-size="9" font-weight="bold" text-anchor="end">10<tspan dy="-4" font-size="6">−15</tspan></text>
<text x="312.3" y="120.4" font-size="10.2" font-weight="bold" text-anchor="middle" >Voltage (V)</text>
<text x="0" y="0" font-size="9.75" font-weight="bold" text-anchor="middle" dominant-baseline="central" transform="translate(230.5,48.4) rotate(-90)">Current (A)</text>
<path d="M99.2 194.6 L215.8 194.6" fill="none" stroke="#d42a2a" stroke-width="1.3" stroke-linejoin="round" stroke-linecap="round" />
<path d="M99.2 211.3 L215.8 211.3" fill="none" stroke="#3333ee" stroke-width="1.3" stroke-linejoin="round" stroke-linecap="round" />
<circle cx="145" cy="142.9" r="1.35" fill="#111"/>
<circle cx="150" cy="139.3" r="1.35" fill="#111"/>
<circle cx="148.6" cy="150.4" r="1.35" fill="#111"/>
<circle cx="152.2" cy="152.4" r="1.35" fill="#111"/>
<circle cx="146.6" cy="154.8" r="1.35" fill="#111"/>
<circle cx="147.6" cy="158.8" r="1.35" fill="#111"/>
<circle cx="152.6" cy="156.8" r="1.35" fill="#111"/>
<circle cx="151.6" cy="163.1" r="1.35" fill="#111"/>
<circle cx="130.7" cy="162.7" r="1.35" fill="#111"/>
<circle cx="117.5" cy="164.7" r="1.35" fill="#111"/>
<circle cx="136.3" cy="163.1" r="1.35" fill="#111"/>
<circle cx="139.3" cy="165.7" r="1.35" fill="#111"/>
<circle cx="143.6" cy="165.3" r="1.35" fill="#111"/>
<circle cx="146" cy="168.3" r="1.35" fill="#111"/>
<circle cx="141.1" cy="170.7" r="1.35" fill="#111"/>
<circle cx="136.7" cy="171" r="1.35" fill="#111"/>
<circle cx="107.9" cy="171.3" r="1.35" fill="#111"/>
<circle cx="115.9" cy="172.7" r="1.35" fill="#111"/>
<circle cx="120.8" cy="174.2" r="1.35" fill="#111"/>
<circle cx="155.5" cy="170.7" r="1.35" fill="#111"/>
<circle cx="128.8" cy="176.2" r="1.35" fill="#111"/>
<circle cx="109.9" cy="177.6" r="1.35" fill="#111"/>
<circle cx="186.7" cy="144.3" r="1.35" fill="#111"/>
<circle cx="188.3" cy="151.8" r="1.35" fill="#111"/>
<circle cx="203.6" cy="155.8" r="1.35" fill="#111"/>
<circle cx="185.8" cy="163.1" r="1.35" fill="#111"/>
<circle cx="196.3" cy="161.7" r="1.35" fill="#111"/>
<circle cx="201" cy="163.7" r="1.35" fill="#111"/>
<circle cx="205" cy="161.7" r="1.35" fill="#111"/>
<circle cx="200.2" cy="168.7" r="1.35" fill="#111"/>
<circle cx="198" cy="174.2" r="1.35" fill="#111"/>
<circle cx="202.6" cy="174.2" r="1.35" fill="#111"/>
<circle cx="207" cy="172.7" r="1.35" fill="#111"/>
<circle cx="207.6" cy="175.6" r="1.35" fill="#111"/>
<circle cx="205.6" cy="178.2" r="1.35" fill="#111"/>
<circle cx="108.9" cy="178" r="1.35" fill="#111"/>
<circle cx="111.3" cy="179.4" r="1.35" fill="#111"/>
<circle cx="112.9" cy="181.9" r="1.35" fill="#111"/>
<circle cx="113.9" cy="183.9" r="1.35" fill="#111"/>
<circle cx="110.9" cy="186.5" r="1.35" fill="#111"/>
<circle cx="115.9" cy="186.9" r="1.35" fill="#111"/>
<circle cx="114.9" cy="189.5" r="1.35" fill="#111"/>
<circle cx="117.3" cy="189.3" r="1.35" fill="#111"/>
<circle cx="118.8" cy="182.9" r="1.35" fill="#111"/>
<circle cx="121.2" cy="178" r="1.35" fill="#111"/>
<circle cx="124.8" cy="182.9" r="1.35" fill="#111"/>
<circle cx="126.8" cy="182.9" r="1.35" fill="#111"/>
<circle cx="122.8" cy="187.3" r="1.35" fill="#111"/>
<circle cx="125.4" cy="189.3" r="1.35" fill="#111"/>
<circle cx="128.8" cy="177" r="1.35" fill="#111"/>
<circle cx="129.8" cy="178" r="1.35" fill="#111"/>
<circle cx="131.7" cy="186.9" r="1.35" fill="#111"/>
<circle cx="133.7" cy="185.9" r="1.35" fill="#111"/>
<circle cx="135.7" cy="183.9" r="1.35" fill="#111"/>
<circle cx="127.8" cy="193.8" r="1.35" fill="#111"/>
<circle cx="134.3" cy="199.2" r="1.35" fill="#111"/>
<circle cx="122.8" cy="198.8" r="1.35" fill="#111"/>
<circle cx="124.4" cy="201.8" r="1.35" fill="#111"/>
<circle cx="119.8" cy="202.8" r="1.35" fill="#111"/>
<circle cx="127.4" cy="205.2" r="1.35" fill="#111"/>
<circle cx="141.7" cy="190.9" r="1.35" fill="#111"/>
<circle cx="143" cy="192.9" r="1.35" fill="#111"/>
<circle cx="141.7" cy="194.4" r="1.35" fill="#111"/>
<circle cx="147" cy="195.8" r="1.35" fill="#111"/>
<circle cx="150.6" cy="180.6" r="1.35" fill="#111"/>
<circle cx="153.6" cy="184.5" r="1.35" fill="#111"/>
<circle cx="156.5" cy="186.9" r="1.35" fill="#111"/>
<circle cx="154.6" cy="197.8" r="1.35" fill="#111"/>
<circle cx="157.5" cy="198.4" r="1.35" fill="#111"/>
<circle cx="156" cy="185.3" r="1.35" fill="#111"/>
<circle cx="158" cy="187.3" r="1.35" fill="#111"/>
<circle cx="159.4" cy="189.3" r="1.35" fill="#111"/>
<circle cx="161.9" cy="190.9" r="1.35" fill="#111"/>
<circle cx="162.9" cy="193.8" r="1.35" fill="#111"/>
<circle cx="157" cy="196.8" r="1.35" fill="#111"/>
<circle cx="167.9" cy="197.2" r="1.35" fill="#111"/>
<circle cx="169.9" cy="195.8" r="1.35" fill="#111"/>
<circle cx="171.9" cy="194.8" r="1.35" fill="#111"/>
<circle cx="173.8" cy="195.8" r="1.35" fill="#111"/>
<circle cx="168.9" cy="199.2" r="1.35" fill="#111"/>
<circle cx="174.8" cy="199.8" r="1.35" fill="#111"/>
<circle cx="178.8" cy="195.8" r="1.35" fill="#111"/>
<circle cx="180.8" cy="193.8" r="1.35" fill="#111"/>
<circle cx="181.8" cy="197.8" r="1.35" fill="#111"/>
<circle cx="182.8" cy="199.2" r="1.35" fill="#111"/>
<circle cx="163.9" cy="204.4" r="1.35" fill="#111"/>
<circle cx="165.9" cy="204.4" r="1.35" fill="#111"/>
<circle cx="166.9" cy="202.8" r="1.35" fill="#111"/>
<circle cx="164.9" cy="205.8" r="1.35" fill="#111"/>
<circle cx="170.9" cy="205.8" r="1.35" fill="#111"/>
<circle cx="172.9" cy="204.8" r="1.35" fill="#111"/>
<circle cx="174.8" cy="205.8" r="1.35" fill="#111"/>
<circle cx="161" cy="209.7" r="1.35" fill="#111"/>
<circle cx="182.8" cy="183.9" r="1.35" fill="#111"/>
<circle cx="184.4" cy="185.9" r="1.35" fill="#111"/>
<circle cx="186.7" cy="186.9" r="1.35" fill="#111"/>
<circle cx="192.7" cy="190.9" r="1.35" fill="#111"/>
<circle cx="193.7" cy="194.8" r="1.35" fill="#111"/>
<circle cx="195.7" cy="181" r="1.35" fill="#111"/>
<circle cx="196.7" cy="182.9" r="1.35" fill="#111"/>
<circle cx="195.7" cy="176" r="1.35" fill="#111"/>
<circle cx="205.6" cy="178" r="1.35" fill="#111"/>
<circle cx="209" cy="183.3" r="1.35" fill="#111"/>
<circle cx="208.2" cy="193.3" r="1.35" fill="#111"/>
<circle cx="191.7" cy="204.8" r="1.35" fill="#111"/>
<circle cx="190.7" cy="207.7" r="1.35" fill="#111"/>
<circle cx="189.7" cy="208.7" r="1.35" fill="#111"/>
<rect x="99.2" y="129.6" width="116.60000000000001" height="97.80000000000001" fill="none" stroke="#3a3a3a" stroke-width="1.3"/>
<path d="M107.0 227.4 L107.0 225.4" fill="none" stroke="#3a3a3a" stroke-width="0.9" stroke-linejoin="round" stroke-linecap="round" />
<path d="M123.8 227.4 L123.8 225.4" fill="none" stroke="#3a3a3a" stroke-width="0.9" stroke-linejoin="round" stroke-linecap="round" />
<path d="M140.6 227.4 L140.6 225.4" fill="none" stroke="#3a3a3a" stroke-width="0.9" stroke-linejoin="round" stroke-linecap="round" />
<path d="M157.4 227.4 L157.4 225.4" fill="none" stroke="#3a3a3a" stroke-width="0.9" stroke-linejoin="round" stroke-linecap="round" />
<path d="M174.2 227.4 L174.2 225.4" fill="none" stroke="#3a3a3a" stroke-width="0.9" stroke-linejoin="round" stroke-linecap="round" />
<path d="M191.0 227.4 L191.0 225.4" fill="none" stroke="#3a3a3a" stroke-width="0.9" stroke-linejoin="round" stroke-linecap="round" />
<path d="M207.8 227.4 L207.8 225.4" fill="none" stroke="#3a3a3a" stroke-width="0.9" stroke-linejoin="round" stroke-linecap="round" />
<path d="M99.2 226.6 L101.2 226.6" fill="none" stroke="#3a3a3a" stroke-width="0.9" stroke-linejoin="round" stroke-linecap="round" />
<path d="M99.2 210.6 L101.2 210.6" fill="none" stroke="#3a3a3a" stroke-width="0.9" stroke-linejoin="round" stroke-linecap="round" />
<path d="M99.2 194.6 L101.2 194.6" fill="none" stroke="#3a3a3a" stroke-width="0.9" stroke-linejoin="round" stroke-linecap="round" />
<path d="M99.2 178.6 L101.2 178.6" fill="none" stroke="#3a3a3a" stroke-width="0.9" stroke-linejoin="round" stroke-linecap="round" />
<path d="M99.2 162.6 L101.2 162.6" fill="none" stroke="#3a3a3a" stroke-width="0.9" stroke-linejoin="round" stroke-linecap="round" />
<path d="M99.2 146.6 L101.2 146.6" fill="none" stroke="#3a3a3a" stroke-width="0.9" stroke-linejoin="round" stroke-linecap="round" />
<path d="M99.2 130.6 L101.2 130.6" fill="none" stroke="#3a3a3a" stroke-width="0.9" stroke-linejoin="round" stroke-linecap="round" />
<rect x="112.7" y="129.6" width="26.8" height="22.8" fill="#fff" stroke="#333" stroke-width="1"/>
<path d="M117.4 137.7 L127.2 137.7" fill="none" stroke="#d42a2a" stroke-width="1.0" stroke-linejoin="round" stroke-linecap="round" />
<path d="M117.4 148.9 L127.2 148.9" fill="none" stroke="#3333ee" stroke-width="1.0" stroke-linejoin="round" stroke-linecap="round" />
<text x="127.2" y="141" font-size="8.6" font-weight="normal">10<tspan dy="-3.5" font-size="5.5">2</tspan></text>
<text x="127.2" y="151.2" font-size="8.6" font-weight="normal" text-anchor="start" >10</text>
<text x="100.0" y="137.4" font-size="7.4" font-weight="normal">(e)</text>
<text x="107.0" y="237" font-size="9.3" font-weight="bold" text-anchor="middle" >0</text>
<text x="123.8" y="237" font-size="9.3" font-weight="bold" text-anchor="middle" >20</text>
<text x="140.6" y="237" font-size="9.3" font-weight="bold" text-anchor="middle" >40</text>
<text x="157.4" y="237" font-size="9.3" font-weight="bold" text-anchor="middle" >60</text>
<text x="174.2" y="237" font-size="9.3" font-weight="bold" text-anchor="middle" >80</text>
<text x="191.0" y="237" font-size="9.3" font-weight="bold" text-anchor="middle" >100</text>
<text x="207.8" y="237" font-size="9.3" font-weight="bold" text-anchor="middle" >120</text>
<text x="96.8" y="166.0" font-size="9.8" font-weight="bold" text-anchor="end">10<tspan dy="-3.8" font-size="6">4</tspan></text>
<text x="97.0" y="231.0" font-size="9.8" font-weight="bold" text-anchor="end">10<tspan dy="-3.8" font-size="6">0</tspan></text>
<text x="160.8" y="246" font-size="10" font-weight="bold" text-anchor="middle" >Number of Cycles</text>
<text x="0" y="0" font-size="10.4" font-weight="bold" text-anchor="middle" dominant-baseline="central" transform="translate(78.5,178.9) rotate(-90)">on/off ratio</text>
<path d="M256.3 205.5 L373.2 205.5" fill="none" stroke="#d42a2a" stroke-width="1.3" stroke-linejoin="round" stroke-linecap="round" />
<path d="M256.3 216.7 L373.2 216.7" fill="none" stroke="#3333ee" stroke-width="1.3" stroke-linejoin="round" stroke-linecap="round" />
<g fill="#111"><circle cx="265.1" cy="133.2" r="0.95"/><circle cx="264.5" cy="137.1" r="0.95"/><circle cx="264.2" cy="135.5" r="0.95"/><circle cx="264.9" cy="149.0" r="0.95"/><circle cx="266.3" cy="147.4" r="0.95"/><circle cx="265.0" cy="149.5" r="0.95"/><circle cx="264.1" cy="148.2" r="0.95"/><circle cx="265.4" cy="153.0" r="0.95"/><circle cx="263.8" cy="144.7" r="0.95"/><circle cx="263.8" cy="153.3" r="0.95"/><circle cx="265.6" cy="140.2" r="0.95"/><circle cx="266.4" cy="155.9" r="0.95"/><circle cx="265.5" cy="150.0" r="0.95"/><circle cx="264.0" cy="139.8" r="0.95"/><circle cx="265.1" cy="140.5" r="0.95"/><circle cx="264.1" cy="143.6" r="0.95"/><circle cx="263.6" cy="147.4" r="0.95"/><circle cx="264.8" cy="153.8" r="0.95"/><circle cx="265.1" cy="150.4" r="0.95"/><circle cx="265.0" cy="150.8" r="0.95"/><circle cx="264.9" cy="144.2" r="0.95"/><circle cx="266.5" cy="156.4" r="0.95"/><circle cx="266.0" cy="151.5" r="0.95"/><circle cx="264.4" cy="143.4" r="0.95"/><circle cx="264.4" cy="140.7" r="0.95"/><circle cx="265.8" cy="146.3" r="0.95"/><circle cx="266.0" cy="146.1" r="0.95"/><circle cx="266.4" cy="153.9" r="0.95"/><circle cx="263.5" cy="143.1" r="0.95"/><circle cx="266.2" cy="147.5" r="0.95"/><circle cx="266.4" cy="146.3" r="0.95"/><circle cx="263.7" cy="150.2" r="0.95"/><circle cx="265.8" cy="144.1" r="0.95"/><circle cx="263.8" cy="145.2" r="0.95"/><circle cx="266.4" cy="152.4" r="0.95"/><circle cx="263.9" cy="143.7" r="0.95"/><circle cx="263.8" cy="140.5" r="0.95"/><circle cx="265.9" cy="142.5" r="0.95"/><circle cx="265.2" cy="147.1" r="0.95"/><circle cx="264.1" cy="151.9" r="0.95"/><circle cx="263.9" cy="150.4" r="0.95"/><circle cx="263.8" cy="146.7" r="0.95"/><circle cx="264.1" cy="144.1" r="0.95"/><circle cx="266.4" cy="153.2" r="0.95"/><circle cx="264.4" cy="154.5" r="0.95"/><circle cx="264.1" cy="146.2" r="0.95"/><circle cx="266.1" cy="150.4" r="0.95"/><circle cx="263.8" cy="156.3" r="0.95"/><circle cx="264.1" cy="143.9" r="0.95"/><circle cx="265.8" cy="145.1" r="0.95"/><circle cx="264.4" cy="140.7" r="0.95"/><circle cx="263.8" cy="149.4" r="0.95"/><circle cx="264.2" cy="149.7" r="0.95"/><circle cx="264.6" cy="147.2" r="0.95"/><circle cx="266.4" cy="147.7" r="0.95"/><circle cx="265.2" cy="154.2" r="0.95"/><circle cx="264.0" cy="142.1" r="0.95"/><circle cx="266.2" cy="153.4" r="0.95"/><circle cx="264.2" cy="142.7" r="0.95"/><circle cx="265.7" cy="155.5" r="0.95"/><circle cx="264.1" cy="155.7" r="0.95"/><circle cx="266.1" cy="149.8" r="0.95"/><circle cx="264.8" cy="141.3" r="0.95"/><circle cx="263.6" cy="155.9" r="0.95"/><circle cx="264.2" cy="151.5" r="0.95"/><circle cx="264.3" cy="153.5" r="0.95"/><circle cx="265.3" cy="144.5" r="0.95"/><circle cx="264.0" cy="151.7" r="0.95"/><circle cx="263.7" cy="143.4" r="0.95"/><circle cx="265.2" cy="154.0" r="0.95"/><circle cx="265.3" cy="144.3" r="0.95"/><circle cx="266.3" cy="143.0" r="0.95"/><circle cx="263.5" cy="144.1" r="0.95"/><circle cx="264.8" cy="140.5" r="0.95"/><circle cx="264.0" cy="145.8" r="0.95"/><circle cx="265.2" cy="141.7" r="0.95"/><circle cx="264.6" cy="154.6" r="0.95"/><circle cx="266.4" cy="150.7" r="0.95"/><circle cx="266.2" cy="159.3" r="0.95"/><circle cx="264.0" cy="157.1" r="0.95"/><circle cx="263.5" cy="160.6" r="0.95"/><circle cx="266.3" cy="160.9" r="0.95"/><circle cx="263.5" cy="159.5" r="0.95"/><circle cx="265.1" cy="178.5" r="0.95"/><circle cx="264.5" cy="185.0" r="0.95"/><circle cx="263.7" cy="174.1" r="0.95"/><circle cx="266.1" cy="182.6" r="0.95"/><circle cx="266.1" cy="177.9" r="0.95"/><circle cx="266.3" cy="183.0" r="0.95"/><circle cx="264.7" cy="177.4" r="0.95"/><circle cx="266.6" cy="181.9" r="0.95"/><circle cx="264.9" cy="180.0" r="0.95"/><circle cx="266.5" cy="174.7" r="0.95"/><circle cx="265.6" cy="170.2" r="0.95"/><circle cx="265.5" cy="175.6" r="0.95"/><circle cx="263.7" cy="176.3" r="0.95"/><circle cx="267.0" cy="182.1" r="0.95"/><circle cx="266.0" cy="170.3" r="0.95"/><circle cx="266.0" cy="174.9" r="0.95"/><circle cx="265.0" cy="181.1" r="0.95"/><circle cx="263.7" cy="179.0" r="0.95"/><circle cx="263.5" cy="175.4" r="0.95"/><circle cx="265.1" cy="166.5" r="0.95"/><circle cx="265.9" cy="172.9" r="0.95"/><circle cx="265.6" cy="183.1" r="0.95"/><circle cx="264.3" cy="161.3" r="0.95"/><circle cx="264.5" cy="177.3" r="0.95"/><circle cx="264.1" cy="165.1" r="0.95"/><circle cx="266.7" cy="176.8" r="0.95"/><circle cx="265.0" cy="182.4" r="0.95"/><circle cx="264.6" cy="177.0" r="0.95"/><circle cx="264.1" cy="171.3" r="0.95"/><circle cx="266.3" cy="182.9" r="0.95"/><circle cx="266.6" cy="170.2" r="0.95"/><circle cx="265.5" cy="168.6" r="0.95"/><circle cx="263.9" cy="172.9" r="0.95"/><circle cx="266.4" cy="181.4" r="0.95"/><circle cx="266.0" cy="183.8" r="0.95"/><circle cx="264.4" cy="165.1" r="0.95"/><circle cx="265.0" cy="167.6" r="0.95"/><circle cx="264.2" cy="170.9" r="0.95"/><circle cx="265.7" cy="172.9" r="0.95"/><circle cx="264.5" cy="181.1" r="0.95"/><circle cx="266.9" cy="171.9" r="0.95"/><circle cx="263.7" cy="161.8" r="0.95"/><circle cx="266.5" cy="162.0" r="0.95"/><circle cx="266.0" cy="174.7" r="0.95"/><circle cx="264.5" cy="180.0" r="0.95"/><circle cx="266.2" cy="167.6" r="0.95"/><circle cx="270.1" cy="167.0" r="0.95"/><circle cx="273.5" cy="173.6" r="0.95"/><circle cx="267.3" cy="165.9" r="0.95"/><circle cx="271.7" cy="177.5" r="0.95"/><circle cx="271.7" cy="182.2" r="0.95"/><circle cx="273.3" cy="189.1" r="0.95"/><circle cx="272.2" cy="172.1" r="0.95"/><circle cx="270.3" cy="170.8" r="0.95"/><circle cx="266.1" cy="176.3" r="0.95"/><circle cx="272.4" cy="171.8" r="0.95"/><circle cx="268.5" cy="174.0" r="0.95"/><circle cx="272.3" cy="179.3" r="0.95"/><circle cx="271.5" cy="184.5" r="0.95"/><circle cx="269.5" cy="185.0" r="0.95"/><circle cx="274.2" cy="170.7" r="0.95"/><circle cx="274.4" cy="184.2" r="0.95"/><circle cx="267.2" cy="176.2" r="0.95"/><circle cx="271.6" cy="188.0" r="0.95"/><circle cx="269.4" cy="179.7" r="0.95"/><circle cx="273.9" cy="185.7" r="0.95"/><circle cx="274.5" cy="178.8" r="0.95"/><circle cx="271.9" cy="172.1" r="0.95"/><circle cx="272.5" cy="186.0" r="0.95"/><circle cx="271.8" cy="183.6" r="0.95"/><circle cx="267.9" cy="187.5" r="0.95"/><circle cx="274.8" cy="189.5" r="0.95"/><circle cx="270.8" cy="185.2" r="0.95"/><circle cx="268.9" cy="187.8" r="0.95"/><circle cx="273.7" cy="176.1" r="0.95"/><circle cx="266.7" cy="175.7" r="0.95"/><circle cx="271.0" cy="184.7" r="0.95"/><circle cx="270.4" cy="167.3" r="0.95"/><circle cx="273.3" cy="169.8" r="0.95"/><circle cx="273.2" cy="172.1" r="0.95"/><circle cx="269.0" cy="184.9" r="0.95"/><circle cx="267.3" cy="168.5" r="0.95"/><circle cx="270.6" cy="183.6" r="0.95"/><circle cx="273.6" cy="183.3" r="0.95"/><circle cx="274.5" cy="179.4" r="0.95"/><circle cx="274.5" cy="170.9" r="0.95"/><circle cx="268.0" cy="178.3" r="0.95"/><circle cx="268.6" cy="183.4" r="0.95"/><circle cx="271.7" cy="179.2" r="0.95"/><circle cx="273.6" cy="180.6" r="0.95"/><circle cx="268.8" cy="175.0" r="0.95"/><circle cx="273.6" cy="187.9" r="0.95"/><circle cx="267.9" cy="186.3" r="0.95"/><circle cx="274.7" cy="180.1" r="0.95"/><circle cx="271.2" cy="171.7" r="0.95"/><circle cx="270.8" cy="178.5" r="0.95"/><circle cx="271.4" cy="167.9" r="0.95"/><circle cx="274.7" cy="180.0" r="0.95"/><circle cx="269.6" cy="185.3" r="0.95"/><circle cx="271.1" cy="178.3" r="0.95"/><circle cx="272.1" cy="186.3" r="0.95"/><circle cx="270.2" cy="192.9" r="0.95"/><circle cx="275.5" cy="202.5" r="0.95"/><circle cx="266.8" cy="194.0" r="0.95"/><circle cx="265.0" cy="193.2" r="0.95"/><circle cx="273.7" cy="202.1" r="0.95"/><circle cx="269.4" cy="191.0" r="0.95"/><circle cx="265.8" cy="196.7" r="0.95"/><circle cx="275.1" cy="187.5" r="0.95"/><circle cx="273.2" cy="185.4" r="0.95"/><circle cx="265.8" cy="189.3" r="0.95"/><circle cx="272.1" cy="191.1" r="0.95"/><circle cx="267.9" cy="196.8" r="0.95"/><circle cx="264.7" cy="198.9" r="0.95"/><circle cx="264.9" cy="194.7" r="0.95"/><circle cx="266.6" cy="188.8" r="0.95"/><circle cx="270.1" cy="193.3" r="0.95"/><circle cx="268.1" cy="192.9" r="0.95"/><circle cx="270.1" cy="188.0" r="0.95"/><circle cx="266.0" cy="197.0" r="0.95"/><circle cx="271.4" cy="195.1" r="0.95"/><circle cx="274.1" cy="196.6" r="0.95"/><circle cx="274.2" cy="189.4" r="0.95"/><circle cx="272.7" cy="200.4" r="0.95"/><circle cx="274.8" cy="191.0" r="0.95"/><circle cx="267.4" cy="202.5" r="0.95"/><circle cx="266.1" cy="204.0" r="0.95"/><circle cx="274.6" cy="187.5" r="0.95"/><circle cx="266.4" cy="198.8" r="0.95"/><circle cx="266.7" cy="186.8" r="0.95"/><circle cx="273.9" cy="193.0" r="0.95"/><circle cx="273.4" cy="187.4" r="0.95"/><circle cx="268.5" cy="198.0" r="0.95"/><circle cx="263.6" cy="188.8" r="0.95"/><circle cx="272.0" cy="202.3" r="0.95"/><circle cx="275.6" cy="187.2" r="0.95"/><circle cx="269.8" cy="199.4" r="0.95"/><circle cx="269.7" cy="198.0" r="0.95"/><circle cx="265.8" cy="186.3" r="0.95"/><circle cx="264.7" cy="185.7" r="0.95"/><circle cx="270.4" cy="194.8" r="0.95"/><circle cx="270.6" cy="187.8" r="0.95"/><circle cx="265.7" cy="188.9" r="0.95"/><circle cx="274.0" cy="203.8" r="0.95"/><circle cx="275.1" cy="186.8" r="0.95"/><circle cx="264.2" cy="203.1" r="0.95"/><circle cx="269.2" cy="199.5" r="0.95"/><circle cx="267.5" cy="193.9" r="0.95"/><circle cx="269.9" cy="193.2" r="0.95"/><circle cx="271.0" cy="185.3" r="0.95"/><circle cx="272.2" cy="201.0" r="0.95"/><circle cx="265.7" cy="193.6" r="0.95"/><circle cx="272.7" cy="192.7" r="0.95"/><circle cx="265.9" cy="188.1" r="0.95"/><circle cx="269.9" cy="185.3" r="0.95"/><circle cx="274.7" cy="200.2" r="0.95"/><circle cx="272.3" cy="201.4" r="0.95"/><circle cx="271.3" cy="192.7" r="0.95"/><circle cx="271.0" cy="194.6" r="0.95"/><circle cx="275.8" cy="200.3" r="0.95"/><circle cx="266.7" cy="202.3" r="0.95"/><circle cx="272.8" cy="199.8" r="0.95"/><circle cx="273.7" cy="192.7" r="0.95"/><circle cx="274.7" cy="201.7" r="0.95"/><circle cx="272.2" cy="199.6" r="0.95"/><circle cx="273.0" cy="192.7" r="0.95"/><circle cx="272.5" cy="186.3" r="0.95"/><circle cx="267.7" cy="193.9" r="0.95"/><circle cx="263.5" cy="191.8" r="0.95"/><circle cx="271.4" cy="196.9" r="0.95"/><circle cx="266.3" cy="202.9" r="0.95"/><circle cx="271.8" cy="191.4" r="0.95"/><circle cx="271.7" cy="195.8" r="0.95"/><circle cx="270.1" cy="192.4" r="0.95"/><circle cx="276.0" cy="197.2" r="0.95"/><circle cx="272.2" cy="199.5" r="0.95"/><circle cx="275.7" cy="185.4" r="0.95"/><circle cx="271.2" cy="199.0" r="0.95"/><circle cx="266.6" cy="192.6" r="0.95"/><circle cx="264.0" cy="188.7" r="0.95"/><circle cx="268.1" cy="186.9" r="0.95"/><circle cx="266.6" cy="202.2" r="0.95"/><circle cx="270.3" cy="194.6" r="0.95"/><circle cx="275.6" cy="195.8" r="0.95"/><circle cx="275.9" cy="197.1" r="0.95"/><circle cx="273.6" cy="186.4" r="0.95"/><circle cx="270.9" cy="199.4" r="0.95"/><circle cx="264.0" cy="202.7" r="0.95"/><circle cx="265.4" cy="194.0" r="0.95"/><circle cx="265.5" cy="194.4" r="0.95"/><circle cx="271.1" cy="186.1" r="0.95"/><circle cx="275.3" cy="193.0" r="0.95"/><circle cx="270.0" cy="196.4" r="0.95"/><circle cx="268.0" cy="190.4" r="0.95"/><circle cx="271.7" cy="195.7" r="0.95"/><circle cx="267.0" cy="198.6" r="0.95"/><circle cx="267.1" cy="185.3" r="0.95"/><circle cx="266.5" cy="185.8" r="0.95"/><circle cx="265.4" cy="199.3" r="0.95"/><circle cx="268.3" cy="202.1" r="0.95"/><circle cx="272.8" cy="186.0" r="0.95"/><circle cx="275.9" cy="202.9" r="0.95"/><circle cx="264.3" cy="202.2" r="0.95"/><circle cx="268.8" cy="194.1" r="0.95"/><circle cx="275.7" cy="189.6" r="0.95"/><circle cx="270.0" cy="202.8" r="0.95"/><circle cx="272.5" cy="193.9" r="0.95"/><circle cx="275.7" cy="200.5" r="0.95"/><circle cx="271.0" cy="187.2" r="0.95"/><circle cx="271.3" cy="193.7" r="0.95"/><circle cx="292.3" cy="189.3" r="0.95"/><circle cx="312.6" cy="193.2" r="0.95"/><circle cx="324.4" cy="195.0" r="0.95"/><circle cx="359.6" cy="193.7" r="0.95"/><circle cx="284.7" cy="197.1" r="0.95"/><circle cx="305.5" cy="198.0" r="0.95"/><circle cx="325.2" cy="188.2" r="0.95"/><circle cx="296.1" cy="202.3" r="0.95"/><circle cx="278.4" cy="193.4" r="0.95"/><circle cx="327.9" cy="186.2" r="0.95"/><circle cx="282.3" cy="196.8" r="0.95"/><circle cx="306.6" cy="196.1" r="0.95"/><circle cx="338.2" cy="188.9" r="0.95"/><circle cx="343.6" cy="192.7" r="0.95"/><circle cx="311.0" cy="195.3" r="0.95"/><circle cx="330.4" cy="195.5" r="0.95"/><circle cx="338.3" cy="194.0" r="0.95"/><circle cx="283.2" cy="186.7" r="0.95"/><circle cx="322.8" cy="191.2" r="0.95"/><circle cx="340.8" cy="199.3" r="0.95"/><circle cx="281.9" cy="197.7" r="0.95"/><circle cx="299.0" cy="199.4" r="0.95"/><circle cx="306.1" cy="198.8" r="0.95"/><circle cx="352.9" cy="197.0" r="0.95"/><circle cx="343.1" cy="194.8" r="0.95"/><circle cx="354.3" cy="194.9" r="0.95"/><circle cx="306.0" cy="196.5" r="0.95"/><circle cx="291.5" cy="196.4" r="0.95"/><circle cx="345.9" cy="201.1" r="0.95"/><circle cx="349.7" cy="197.1" r="0.95"/><circle cx="321.1" cy="197.8" r="0.95"/><circle cx="343.2" cy="201.5" r="0.95"/><circle cx="282.1" cy="201.9" r="0.95"/><circle cx="282.2" cy="199.2" r="0.95"/><circle cx="330.0" cy="199.0" r="0.95"/><circle cx="319.2" cy="191.1" r="0.95"/><circle cx="357.1" cy="197.2" r="0.95"/><circle cx="336.1" cy="192.7" r="0.95"/><circle cx="345.1" cy="201.0" r="0.95"/><circle cx="345.7" cy="199.1" r="0.95"/><circle cx="319.4" cy="192.7" r="0.95"/><circle cx="310.7" cy="203.2" r="0.95"/><circle cx="306.8" cy="196.7" r="0.95"/><circle cx="299.8" cy="193.2" r="0.95"/><circle cx="284.7" cy="189.3" r="0.95"/><circle cx="280.3" cy="202.4" r="0.95"/><circle cx="278.1" cy="189.2" r="0.95"/><circle cx="295.0" cy="190.4" r="0.95"/><circle cx="290.7" cy="199.4" r="0.95"/><circle cx="301.4" cy="197.4" r="0.95"/><circle cx="297.1" cy="193.8" r="0.95"/><circle cx="321.4" cy="189.6" r="0.95"/><circle cx="279.2" cy="193.3" r="0.95"/><circle cx="319.7" cy="204.1" r="0.95"/><circle cx="330.8" cy="193.4" r="0.95"/><circle cx="306.5" cy="198.6" r="0.95"/><circle cx="288.3" cy="190.4" r="0.95"/><circle cx="348.7" cy="204.9" r="0.95"/><circle cx="297.6" cy="200.4" r="0.95"/><circle cx="275.1" cy="199.8" r="0.95"/><circle cx="282.0" cy="186.7" r="0.95"/><circle cx="315.7" cy="197.6" r="0.95"/><circle cx="347.7" cy="195.3" r="0.95"/><circle cx="352.7" cy="193.5" r="0.95"/><circle cx="321.1" cy="201.0" r="0.95"/><circle cx="301.4" cy="193.8" r="0.95"/><circle cx="314.6" cy="198.2" r="0.95"/><circle cx="284.0" cy="203.2" r="0.95"/><circle cx="345.4" cy="194.6" r="0.95"/><circle cx="335.2" cy="193.1" r="0.95"/><circle cx="275.9" cy="190.3" r="0.95"/><circle cx="327.2" cy="194.4" r="0.95"/><circle cx="300.3" cy="198.7" r="0.95"/><circle cx="296.7" cy="192.5" r="0.95"/><circle cx="355.1" cy="195.1" r="0.95"/><circle cx="345.1" cy="190.3" r="0.95"/><circle cx="332.5" cy="192.1" r="0.95"/><circle cx="346.0" cy="192.4" r="0.95"/><circle cx="288.3" cy="187.3" r="0.95"/><circle cx="353.1" cy="199.5" r="0.95"/><circle cx="340.0" cy="193.6" r="0.95"/><circle cx="309.9" cy="200.6" r="0.95"/><circle cx="358.3" cy="198.0" r="0.95"/><circle cx="276.6" cy="197.1" r="0.95"/><circle cx="284.0" cy="199.9" r="0.95"/><circle cx="345.0" cy="201.1" r="0.95"/><circle cx="351.6" cy="197.3" r="0.95"/><circle cx="287.0" cy="194.2" r="0.95"/><circle cx="335.7" cy="202.8" r="0.95"/><circle cx="328.2" cy="188.7" r="0.95"/><circle cx="323.9" cy="202.2" r="0.95"/><circle cx="305.6" cy="203.9" r="0.95"/><circle cx="286.5" cy="196.1" r="0.95"/><circle cx="322.5" cy="202.4" r="0.95"/><circle cx="344.3" cy="202.0" r="0.95"/><circle cx="299.5" cy="197.3" r="0.95"/><circle cx="345.4" cy="190.1" r="0.95"/><circle cx="277.7" cy="201.2" r="0.95"/><circle cx="330.8" cy="198.3" r="0.95"/><circle cx="307.4" cy="193.1" r="0.95"/><circle cx="291.9" cy="193.2" r="0.95"/><circle cx="323.3" cy="189.4" r="0.95"/><circle cx="323.2" cy="185.3" r="0.95"/><circle cx="331.9" cy="196.0" r="0.95"/><circle cx="314.8" cy="198.7" r="0.95"/><circle cx="339.3" cy="204.1" r="0.95"/><circle cx="346.1" cy="195.8" r="0.95"/><circle cx="323.0" cy="194.9" r="0.95"/><circle cx="311.7" cy="191.5" r="0.95"/><circle cx="336.5" cy="196.9" r="0.95"/><circle cx="338.8" cy="188.6" r="0.95"/><circle cx="285.6" cy="193.4" r="0.95"/><circle cx="279.4" cy="189.5" r="0.95"/><circle cx="301.0" cy="190.5" r="0.95"/><circle cx="352.3" cy="202.9" r="0.95"/><circle cx="310.7" cy="200.5" r="0.95"/><circle cx="323.1" cy="200.0" r="0.95"/><circle cx="285.5" cy="188.0" r="0.95"/><circle cx="295.7" cy="187.9" r="0.95"/><circle cx="350.9" cy="194.6" r="0.95"/><circle cx="324.7" cy="202.1" r="0.95"/><circle cx="301.1" cy="204.0" r="0.95"/><circle cx="315.1" cy="202.3" r="0.95"/><circle cx="351.0" cy="194.5" r="0.95"/><circle cx="315.1" cy="202.8" r="0.95"/><circle cx="292.1" cy="201.8" r="0.95"/><circle cx="279.2" cy="191.6" r="0.95"/><circle cx="351.3" cy="191.9" r="0.95"/><circle cx="334.0" cy="186.9" r="0.95"/><circle cx="293.9" cy="190.0" r="0.95"/><circle cx="290.4" cy="199.4" r="0.95"/><circle cx="306.6" cy="198.6" r="0.95"/><circle cx="294.4" cy="197.4" r="0.95"/><circle cx="298.5" cy="203.8" r="0.95"/><circle cx="312.3" cy="191.2" r="0.95"/><circle cx="325.9" cy="199.7" r="0.95"/><circle cx="282.4" cy="189.6" r="0.95"/><circle cx="298.7" cy="202.5" r="0.95"/><circle cx="358.8" cy="201.1" r="0.95"/><circle cx="307.6" cy="194.4" r="0.95"/><circle cx="322.1" cy="197.2" r="0.95"/><circle cx="341.4" cy="202.6" r="0.95"/><circle cx="333.0" cy="190.1" r="0.95"/><circle cx="341.1" cy="192.3" r="0.95"/><circle cx="312.3" cy="200.1" r="0.95"/><circle cx="295.0" cy="197.1" r="0.95"/><circle cx="317.3" cy="199.1" r="0.95"/><circle cx="323.6" cy="187.1" r="0.95"/><circle cx="276.5" cy="193.9" r="0.95"/><circle cx="297.3" cy="202.4" r="0.95"/><circle cx="323.2" cy="190.2" r="0.95"/><circle cx="287.4" cy="191.1" r="0.95"/><circle cx="327.7" cy="196.1" r="0.95"/><circle cx="282.5" cy="189.9" r="0.95"/><circle cx="288.6" cy="199.3" r="0.95"/><circle cx="280.2" cy="189.6" r="0.95"/><circle cx="357.3" cy="201.3" r="0.95"/><circle cx="358.6" cy="200.5" r="0.95"/><circle cx="278.3" cy="187.2" r="0.95"/><circle cx="308.3" cy="192.2" r="0.95"/><circle cx="277.9" cy="199.6" r="0.95"/><circle cx="294.5" cy="190.4" r="0.95"/><circle cx="314.1" cy="193.3" r="0.95"/><circle cx="358.2" cy="195.2" r="0.95"/><circle cx="330.1" cy="198.2" r="0.95"/><circle cx="348.3" cy="197.0" r="0.95"/><circle cx="308.3" cy="201.0" r="0.95"/><circle cx="293.3" cy="196.0" r="0.95"/><circle cx="288.9" cy="194.0" r="0.95"/><circle cx="301.2" cy="200.1" r="0.95"/><circle cx="348.2" cy="190.0" r="0.95"/><circle cx="333.6" cy="185.1" r="0.95"/><circle cx="290.4" cy="202.1" r="0.95"/><circle cx="335.6" cy="187.7" r="0.95"/><circle cx="354.4" cy="200.1" r="0.95"/><circle cx="351.9" cy="195.6" r="0.95"/><circle cx="282.1" cy="199.6" r="0.95"/><circle cx="319.0" cy="190.2" r="0.95"/><circle cx="278.5" cy="186.1" r="0.95"/><circle cx="301.5" cy="192.4" r="0.95"/><circle cx="334.9" cy="196.8" r="0.95"/><circle cx="287.5" cy="198.4" r="0.95"/><circle cx="309.4" cy="195.2" r="0.95"/><circle cx="299.8" cy="189.0" r="0.95"/><circle cx="277.1" cy="200.1" r="0.95"/><circle cx="357.7" cy="202.7" r="0.95"/><circle cx="293.3" cy="202.5" r="0.95"/><circle cx="348.6" cy="190.1" r="0.95"/><circle cx="311.3" cy="195.9" r="0.95"/><circle cx="302.8" cy="193.4" r="0.95"/><circle cx="309.1" cy="200.0" r="0.95"/><circle cx="295.3" cy="194.4" r="0.95"/><circle cx="287.8" cy="196.1" r="0.95"/><circle cx="334.4" cy="192.3" r="0.95"/><circle cx="280.3" cy="194.5" r="0.95"/><circle cx="324.7" cy="189.4" r="0.95"/><circle cx="277.0" cy="195.6" r="0.95"/><circle cx="297.2" cy="195.0" r="0.95"/><circle cx="327.2" cy="195.8" r="0.95"/><circle cx="354.9" cy="198.2" r="0.95"/><circle cx="309.8" cy="201.9" r="0.95"/><circle cx="349.6" cy="191.3" r="0.95"/><circle cx="286.5" cy="192.6" r="0.95"/><circle cx="357.8" cy="192.4" r="0.95"/><circle cx="332.7" cy="195.0" r="0.95"/><circle cx="308.4" cy="199.0" r="0.95"/><circle cx="321.5" cy="200.5" r="0.95"/><circle cx="357.2" cy="202.7" r="0.95"/><circle cx="301.6" cy="198.9" r="0.95"/><circle cx="356.7" cy="198.6" r="0.95"/><circle cx="316.6" cy="191.5" r="0.95"/><circle cx="338.5" cy="191.9" r="0.95"/><circle cx="302.6" cy="192.3" r="0.95"/><circle cx="280.4" cy="198.5" r="0.95"/><circle cx="284.6" cy="195.1" r="0.95"/><circle cx="288.8" cy="187.7" r="0.95"/><circle cx="296.5" cy="195.0" r="0.95"/><circle cx="335.7" cy="190.7" r="0.95"/><circle cx="303.3" cy="200.7" r="0.95"/><circle cx="323.1" cy="196.8" r="0.95"/><circle cx="345.5" cy="194.6" r="0.95"/><circle cx="331.8" cy="184.2" r="0.95"/><circle cx="324.7" cy="188.8" r="0.95"/><circle cx="333.3" cy="192.8" r="0.95"/><circle cx="354.2" cy="200.4" r="0.95"/><circle cx="285.0" cy="199.2" r="0.95"/><circle cx="359.3" cy="189.5" r="0.95"/><circle cx="321.0" cy="191.3" r="0.95"/><circle cx="342.9" cy="194.8" r="0.95"/><circle cx="327.4" cy="190.9" r="0.95"/><circle cx="333.9" cy="188.9" r="0.95"/><circle cx="289.8" cy="191.5" r="0.95"/><circle cx="316.4" cy="186.5" r="0.95"/><circle cx="323.0" cy="189.9" r="0.95"/><circle cx="294.3" cy="191.8" r="0.95"/><circle cx="279.3" cy="192.2" r="0.95"/><circle cx="281.6" cy="203.4" r="0.95"/><circle cx="292.1" cy="193.7" r="0.95"/><circle cx="343.4" cy="197.5" r="0.95"/><circle cx="330.7" cy="202.7" r="0.95"/><circle cx="348.3" cy="202.6" r="0.95"/><circle cx="336.5" cy="188.5" r="0.95"/><circle cx="285.1" cy="199.5" r="0.95"/><circle cx="301.3" cy="192.4" r="0.95"/><circle cx="356.3" cy="202.2" r="0.95"/><circle cx="342.2" cy="201.1" r="0.95"/><circle cx="345.2" cy="190.1" r="0.95"/><circle cx="355.6" cy="193.7" r="0.95"/><circle cx="352.1" cy="193.6" r="0.95"/><circle cx="307.9" cy="201.3" r="0.95"/><circle cx="305.9" cy="195.2" r="0.95"/><circle cx="351.8" cy="194.2" r="0.95"/><circle cx="337.9" cy="196.1" r="0.95"/><circle cx="332.7" cy="187.1" r="0.95"/><circle cx="304.7" cy="197.8" r="0.95"/><circle cx="309.2" cy="202.8" r="0.95"/><circle cx="292.4" cy="199.6" r="0.95"/><circle cx="284.2" cy="203.6" r="0.95"/><circle cx="293.6" cy="190.5" r="0.95"/><circle cx="298.2" cy="193.0" r="0.95"/><circle cx="290.6" cy="189.9" r="0.95"/><circle cx="328.8" cy="188.9" r="0.95"/><circle cx="327.3" cy="196.6" r="0.95"/><circle cx="317.8" cy="201.1" r="0.95"/><circle cx="333.5" cy="193.5" r="0.95"/><circle cx="307.6" cy="198.1" r="0.95"/><circle cx="318.7" cy="194.4" r="0.95"/><circle cx="325.3" cy="188.4" r="0.95"/><circle cx="314.7" cy="193.2" r="0.95"/><circle cx="337.5" cy="202.7" r="0.95"/><circle cx="285.7" cy="190.6" r="0.95"/><circle cx="346.3" cy="201.3" r="0.95"/><circle cx="342.6" cy="192.9" r="0.95"/><circle cx="348.8" cy="201.5" r="0.95"/><circle cx="313.5" cy="192.8" r="0.95"/><circle cx="298.7" cy="196.7" r="0.95"/><circle cx="341.7" cy="201.8" r="0.95"/><circle cx="347.5" cy="202.6" r="0.95"/><circle cx="342.6" cy="190.3" r="0.95"/><circle cx="278.1" cy="200.1" r="0.95"/><circle cx="285.0" cy="200.8" r="0.95"/><circle cx="327.3" cy="203.9" r="0.95"/><circle cx="292.5" cy="198.9" r="0.95"/><circle cx="291.7" cy="186.5" r="0.95"/><circle cx="303.8" cy="195.0" r="0.95"/><circle cx="326.1" cy="186.2" r="0.95"/><circle cx="333.8" cy="187.0" r="0.95"/><circle cx="354.8" cy="192.4" r="0.95"/><circle cx="359.4" cy="194.4" r="0.95"/><circle cx="301.3" cy="198.7" r="0.95"/><circle cx="311.0" cy="196.9" r="0.95"/><circle cx="318.0" cy="198.7" r="0.95"/><circle cx="294.9" cy="201.9" r="0.95"/><circle cx="299.3" cy="195.3" r="0.95"/><circle cx="354.2" cy="198.6" r="0.95"/><circle cx="313.0" cy="193.5" r="0.95"/><circle cx="312.4" cy="199.8" r="0.95"/><circle cx="332.0" cy="186.5" r="0.95"/><circle cx="350.9" cy="194.0" r="0.95"/><circle cx="344.6" cy="197.4" r="0.95"/><circle cx="283.4" cy="192.1" r="0.95"/><circle cx="306.8" cy="195.4" r="0.95"/><circle cx="351.1" cy="199.1" r="0.95"/><circle cx="314.8" cy="192.2" r="0.95"/><circle cx="331.9" cy="202.6" r="0.95"/><circle cx="359.2" cy="199.3" r="0.95"/><circle cx="334.4" cy="193.7" r="0.95"/><circle cx="309.0" cy="203.7" r="0.95"/><circle cx="292.8" cy="193.3" r="0.95"/><circle cx="337.9" cy="198.6" r="0.95"/><circle cx="327.8" cy="199.9" r="0.95"/><circle cx="337.0" cy="194.2" r="0.95"/><circle cx="276.3" cy="201.1" r="0.95"/><circle cx="277.1" cy="195.0" r="0.95"/><circle cx="284.4" cy="194.5" r="0.95"/><circle cx="285.6" cy="187.2" r="0.95"/><circle cx="318.4" cy="189.8" r="0.95"/><circle cx="310.1" cy="197.3" r="0.95"/><circle cx="322.3" cy="188.2" r="0.95"/><circle cx="347.1" cy="197.2" r="0.95"/><circle cx="309.5" cy="202.9" r="0.95"/><circle cx="310.1" cy="202.0" r="0.95"/><circle cx="337.3" cy="195.9" r="0.95"/><circle cx="277.4" cy="203.2" r="0.95"/><circle cx="329.5" cy="192.3" r="0.95"/><circle cx="281.6" cy="202.4" r="0.95"/><circle cx="302.9" cy="202.9" r="0.95"/><circle cx="355.3" cy="203.3" r="0.95"/><circle cx="308.4" cy="194.5" r="0.95"/><circle cx="306.2" cy="196.5" r="0.95"/><circle cx="311.5" cy="202.0" r="0.95"/><circle cx="280.2" cy="193.4" r="0.95"/><circle cx="293.9" cy="192.4" r="0.95"/><circle cx="316.0" cy="194.1" r="0.95"/><circle cx="275.8" cy="187.2" r="0.95"/><circle cx="325.3" cy="196.2" r="0.95"/><circle cx="306.3" cy="198.5" r="0.95"/><circle cx="301.7" cy="201.0" r="0.95"/><circle cx="279.5" cy="190.4" r="0.95"/><circle cx="342.5" cy="195.9" r="0.95"/><circle cx="299.2" cy="203.7" r="0.95"/><circle cx="345.5" cy="201.6" r="0.95"/><circle cx="341.8" cy="200.9" r="0.95"/><circle cx="279.1" cy="202.3" r="0.95"/><circle cx="329.2" cy="199.7" r="0.95"/><circle cx="324.2" cy="193.4" r="0.95"/><circle cx="332.6" cy="188.1" r="0.95"/><circle cx="341.3" cy="195.4" r="0.95"/><circle cx="313.0" cy="193.7" r="0.95"/><circle cx="337.3" cy="201.9" r="0.95"/><circle cx="331.5" cy="186.8" r="0.95"/><circle cx="301.3" cy="203.0" r="0.95"/><circle cx="292.9" cy="201.1" r="0.95"/><circle cx="285.5" cy="186.5" r="0.95"/><circle cx="311.6" cy="202.6" r="0.95"/><circle cx="316.9" cy="199.6" r="0.95"/><circle cx="283.9" cy="196.0" r="0.95"/><circle cx="292.1" cy="192.3" r="0.95"/><circle cx="325.2" cy="195.8" r="0.95"/><circle cx="346.4" cy="196.6" r="0.95"/><circle cx="358.2" cy="192.7" r="0.95"/><circle cx="297.2" cy="191.2" r="0.95"/><circle cx="280.4" cy="198.4" r="0.95"/><circle cx="311.7" cy="203.3" r="0.95"/><circle cx="352.1" cy="193.5" r="0.95"/><circle cx="338.9" cy="202.1" r="0.95"/><circle cx="278.0" cy="195.1" r="0.95"/><circle cx="303.2" cy="200.3" r="0.95"/><circle cx="343.3" cy="193.0" r="0.95"/><circle cx="291.9" cy="189.4" r="0.95"/><circle cx="339.9" cy="203.2" r="0.95"/><circle cx="333.5" cy="198.1" r="0.95"/><circle cx="299.7" cy="192.8" r="0.95"/><circle cx="296.1" cy="192.2" r="0.95"/><circle cx="299.8" cy="195.6" r="0.95"/><circle cx="298.1" cy="195.6" r="0.95"/><circle cx="349.1" cy="201.8" r="0.95"/><circle cx="326.7" cy="195.3" r="0.95"/><circle cx="331.0" cy="190.4" r="0.95"/><circle cx="279.6" cy="200.1" r="0.95"/><circle cx="294.8" cy="199.6" r="0.95"/><circle cx="355.0" cy="195.3" r="0.95"/><circle cx="294.7" cy="203.1" r="0.95"/><circle cx="330.7" cy="188.1" r="0.95"/><circle cx="322.9" cy="191.5" r="0.95"/><circle cx="349.0" cy="191.3" r="0.95"/><circle cx="277.5" cy="198.4" r="0.95"/><circle cx="347.5" cy="190.0" r="0.95"/><circle cx="319.7" cy="191.6" r="0.95"/><circle cx="317.3" cy="193.0" r="0.95"/><circle cx="316.2" cy="196.3" r="0.95"/><circle cx="357.5" cy="193.8" r="0.95"/><circle cx="303.5" cy="202.2" r="0.95"/><circle cx="355.6" cy="203.5" r="0.95"/><circle cx="276.7" cy="198.5" r="0.95"/><circle cx="327.0" cy="187.2" r="0.95"/><circle cx="319.0" cy="187.2" r="0.95"/><circle cx="348.7" cy="189.4" r="0.95"/><circle cx="345.4" cy="197.7" r="0.95"/><circle cx="339.2" cy="188.4" r="0.95"/><circle cx="342.3" cy="196.3" r="0.95"/><circle cx="303.5" cy="201.1" r="0.95"/><circle cx="297.2" cy="193.4" r="0.95"/><circle cx="332.2" cy="201.9" r="0.95"/><circle cx="289.9" cy="194.4" r="0.95"/><circle cx="341.5" cy="199.0" r="0.95"/><circle cx="297.1" cy="202.2" r="0.95"/><circle cx="290.6" cy="191.5" r="0.95"/><circle cx="336.6" cy="195.4" r="0.95"/><circle cx="281.7" cy="188.9" r="0.95"/><circle cx="310.1" cy="196.4" r="0.95"/><circle cx="352.3" cy="191.9" r="0.95"/><circle cx="342.0" cy="201.0" r="0.95"/><circle cx="307.2" cy="200.2" r="0.95"/><circle cx="315.4" cy="194.9" r="0.95"/><circle cx="307.3" cy="195.0" r="0.95"/><circle cx="292.4" cy="201.9" r="0.95"/><circle cx="304.0" cy="200.6" r="0.95"/><circle cx="355.2" cy="199.5" r="0.95"/><circle cx="349.8" cy="195.5" r="0.95"/><circle cx="306.6" cy="203.1" r="0.95"/><circle cx="281.1" cy="186.0" r="0.95"/><circle cx="301.0" cy="196.9" r="0.95"/><circle cx="320.8" cy="195.5" r="0.95"/><circle cx="355.3" cy="190.4" r="0.95"/><circle cx="301.2" cy="195.9" r="0.95"/><circle cx="288.6" cy="191.1" r="0.95"/><circle cx="342.2" cy="198.8" r="0.95"/><circle cx="346.7" cy="204.1" r="0.95"/><circle cx="357.9" cy="196.3" r="0.95"/><circle cx="279.4" cy="198.9" r="0.95"/><circle cx="292.9" cy="200.7" r="0.95"/><circle cx="317.3" cy="189.2" r="0.95"/><circle cx="276.3" cy="189.6" r="0.95"/><circle cx="327.5" cy="196.4" r="0.95"/><circle cx="301.9" cy="198.0" r="0.95"/><circle cx="310.4" cy="196.1" r="0.95"/><circle cx="352.5" cy="201.1" r="0.95"/><circle cx="349.8" cy="204.1" r="0.95"/><circle cx="299.5" cy="192.0" r="0.95"/><circle cx="324.5" cy="190.1" r="0.95"/><circle cx="283.2" cy="195.5" r="0.95"/><circle cx="317.2" cy="193.1" r="0.95"/><circle cx="275.1" cy="196.2" r="0.95"/><circle cx="328.6" cy="194.1" r="0.95"/><circle cx="315.9" cy="191.9" r="0.95"/><circle cx="312.5" cy="193.8" r="0.95"/><circle cx="345.3" cy="203.0" r="0.95"/><circle cx="317.7" cy="202.9" r="0.95"/><circle cx="316.5" cy="201.4" r="0.95"/><circle cx="317.7" cy="189.5" r="0.95"/><circle cx="345.7" cy="201.9" r="0.95"/><circle cx="333.1" cy="199.6" r="0.95"/><circle cx="342.9" cy="193.5" r="0.95"/><circle cx="295.7" cy="195.7" r="0.95"/><circle cx="304.1" cy="202.2" r="0.95"/><circle cx="354.1" cy="199.5" r="0.95"/><circle cx="284.3" cy="192.6" r="0.95"/><circle cx="290.8" cy="202.8" r="0.95"/><circle cx="327.8" cy="186.0" r="0.95"/><circle cx="348.6" cy="201.8" r="0.95"/><circle cx="323.3" cy="194.5" r="0.95"/><circle cx="307.6" cy="193.2" r="0.95"/><circle cx="342.5" cy="200.4" r="0.95"/><circle cx="333.9" cy="190.4" r="0.95"/><circle cx="290.9" cy="202.4" r="0.95"/><circle cx="303.0" cy="196.1" r="0.95"/><circle cx="355.7" cy="200.8" r="0.95"/><circle cx="303.3" cy="197.0" r="0.95"/><circle cx="278.0" cy="194.0" r="0.95"/><circle cx="338.1" cy="197.0" r="0.95"/><circle cx="295.5" cy="187.6" r="0.95"/><circle cx="305.1" cy="200.5" r="0.95"/><circle cx="310.1" cy="197.4" r="0.95"/><circle cx="356.3" cy="199.8" r="0.95"/><circle cx="339.7" cy="203.8" r="0.95"/><circle cx="351.5" cy="204.1" r="0.95"/><circle cx="319.8" cy="186.3" r="0.95"/><circle cx="287.7" cy="199.0" r="0.95"/><circle cx="336.6" cy="197.1" r="0.95"/><circle cx="334.9" cy="187.5" r="0.95"/><circle cx="315.3" cy="189.1" r="0.95"/><circle cx="281.0" cy="192.8" r="0.95"/><circle cx="285.8" cy="199.4" r="0.95"/><circle cx="309.2" cy="199.0" r="0.95"/><circle cx="278.9" cy="185.7" r="0.95"/><circle cx="315.2" cy="193.2" r="0.95"/><circle cx="314.7" cy="200.9" r="0.95"/><circle cx="316.3" cy="203.6" r="0.95"/><circle cx="285.2" cy="201.3" r="0.95"/><circle cx="318.1" cy="201.9" r="0.95"/><circle cx="296.8" cy="194.3" r="0.95"/><circle cx="306.0" cy="196.0" r="0.95"/><circle cx="327.9" cy="199.5" r="0.95"/><circle cx="313.6" cy="196.4" r="0.95"/><circle cx="306.9" cy="201.0" r="0.95"/><circle cx="309.0" cy="195.2" r="0.95"/><circle cx="336.4" cy="198.3" r="0.95"/><circle cx="311.9" cy="200.7" r="0.95"/><circle cx="320.7" cy="198.8" r="0.95"/><circle cx="276.4" cy="190.8" r="0.95"/><circle cx="327.0" cy="203.4" r="0.95"/><circle cx="291.7" cy="196.6" r="0.95"/><circle cx="344.6" cy="198.0" r="0.95"/><circle cx="335.4" cy="195.3" r="0.95"/><circle cx="296.3" cy="195.9" r="0.95"/><circle cx="358.7" cy="194.4" r="0.95"/><circle cx="336.6" cy="196.4" r="0.95"/><circle cx="319.8" cy="197.2" r="0.95"/><circle cx="350.8" cy="201.6" r="0.95"/><circle cx="310.6" cy="197.2" r="0.95"/><circle cx="319.9" cy="203.4" r="0.95"/><circle cx="304.9" cy="195.0" r="0.95"/><circle cx="333.7" cy="191.8" r="0.95"/><circle cx="298.2" cy="188.4" r="0.95"/><circle cx="306.8" cy="195.3" r="0.95"/><circle cx="349.0" cy="192.2" r="0.95"/><circle cx="285.0" cy="199.2" r="0.95"/><circle cx="297.4" cy="189.3" r="0.95"/><circle cx="344.4" cy="199.9" r="0.95"/><circle cx="334.3" cy="189.3" r="0.95"/><circle cx="315.2" cy="200.3" r="0.95"/><circle cx="323.3" cy="190.2" r="0.95"/><circle cx="293.9" cy="203.4" r="0.95"/><circle cx="303.9" cy="202.0" r="0.95"/><circle cx="352.6" cy="194.5" r="0.95"/><circle cx="334.9" cy="200.4" r="0.95"/><circle cx="294.2" cy="199.0" r="0.95"/><circle cx="279.0" cy="201.0" r="0.95"/><circle cx="321.1" cy="185.5" r="0.95"/><circle cx="304.9" cy="202.6" r="0.95"/><circle cx="280.3" cy="198.3" r="0.95"/><circle cx="290.0" cy="197.7" r="0.95"/><circle cx="302.3" cy="198.4" r="0.95"/><circle cx="305.2" cy="195.3" r="0.95"/><circle cx="297.1" cy="197.6" r="0.95"/><circle cx="297.8" cy="195.6" r="0.95"/><circle cx="318.4" cy="198.6" r="0.95"/><circle cx="327.8" cy="193.9" r="0.95"/><circle cx="310.0" cy="197.5" r="0.95"/><circle cx="319.9" cy="202.2" r="0.95"/><circle cx="294.0" cy="187.7" r="0.95"/><circle cx="342.5" cy="191.8" r="0.95"/><circle cx="348.7" cy="199.6" r="0.95"/><circle cx="338.1" cy="197.2" r="0.95"/><circle cx="349.7" cy="202.8" r="0.95"/><circle cx="281.3" cy="194.2" r="0.95"/><circle cx="318.7" cy="194.6" r="0.95"/><circle cx="359.0" cy="192.1" r="0.95"/><circle cx="287.6" cy="188.4" r="0.95"/><circle cx="322.7" cy="199.5" r="0.95"/><circle cx="325.2" cy="193.3" r="0.95"/><circle cx="351.3" cy="196.0" r="0.95"/><circle cx="321.1" cy="196.6" r="0.95"/><circle cx="276.5" cy="188.7" r="0.95"/><circle cx="281.2" cy="202.8" r="0.95"/><circle cx="322.4" cy="190.1" r="0.95"/><circle cx="344.1" cy="189.3" r="0.95"/><circle cx="277.9" cy="188.5" r="0.95"/><circle cx="277.5" cy="202.8" r="0.95"/><circle cx="302.2" cy="192.3" r="0.95"/><circle cx="328.9" cy="186.6" r="0.95"/><circle cx="322.8" cy="190.0" r="0.95"/><circle cx="335.6" cy="202.9" r="0.95"/><circle cx="295.3" cy="197.5" r="0.95"/><circle cx="280.6" cy="190.4" r="0.95"/><circle cx="346.6" cy="198.5" r="0.95"/><circle cx="328.2" cy="194.1" r="0.95"/><circle cx="280.0" cy="195.6" r="0.95"/><circle cx="279.1" cy="194.0" r="0.95"/><circle cx="303.0" cy="202.4" r="0.95"/><circle cx="290.3" cy="200.2" r="0.95"/><circle cx="322.9" cy="198.3" r="0.95"/><circle cx="281.6" cy="188.5" r="0.95"/><circle cx="314.7" cy="199.2" r="0.95"/><circle cx="339.5" cy="201.8" r="0.95"/><circle cx="287.5" cy="185.8" r="0.95"/><circle cx="349.4" cy="189.8" r="0.95"/><circle cx="346.8" cy="191.2" r="0.95"/><circle cx="284.5" cy="187.2" r="0.95"/><circle cx="292.0" cy="189.1" r="0.95"/><circle cx="320.4" cy="195.7" r="0.95"/><circle cx="318.1" cy="186.8" r="0.95"/><circle cx="327.2" cy="184.0" r="0.95"/><circle cx="350.3" cy="197.9" r="0.95"/><circle cx="354.7" cy="200.1" r="0.95"/><circle cx="306.6" cy="192.2" r="0.95"/><circle cx="299.1" cy="199.7" r="0.95"/><circle cx="334.3" cy="192.4" r="0.95"/><circle cx="347.3" cy="204.4" r="0.95"/><circle cx="337.8" cy="197.6" r="0.95"/><circle cx="356.3" cy="202.9" r="0.95"/><circle cx="359.7" cy="203.5" r="0.95"/><circle cx="287.2" cy="188.7" r="0.95"/><circle cx="341.2" cy="193.8" r="0.95"/><circle cx="302.4" cy="196.6" r="0.95"/><circle cx="347.7" cy="195.2" r="0.95"/><circle cx="333.8" cy="188.6" r="0.95"/><circle cx="322.2" cy="184.0" r="0.95"/><circle cx="275.2" cy="203.6" r="0.95"/><circle cx="329.1" cy="189.8" r="0.95"/><circle cx="315.8" cy="201.7" r="0.95"/><circle cx="310.7" cy="195.1" r="0.95"/><circle cx="337.9" cy="190.7" r="0.95"/><circle cx="341.4" cy="198.7" r="0.95"/><circle cx="288.7" cy="189.7" r="0.95"/><circle cx="337.0" cy="203.2" r="0.95"/><circle cx="279.9" cy="193.7" r="0.95"/><circle cx="344.9" cy="202.0" r="0.95"/><circle cx="306.6" cy="192.7" r="0.95"/><circle cx="294.4" cy="188.1" r="0.95"/><circle cx="320.1" cy="200.4" r="0.95"/><circle cx="304.2" cy="200.5" r="0.95"/><circle cx="350.0" cy="202.8" r="0.95"/><circle cx="332.4" cy="199.9" r="0.95"/><circle cx="328.7" cy="193.5" r="0.95"/><circle cx="297.3" cy="196.1" r="0.95"/><circle cx="280.0" cy="197.9" r="0.95"/><circle cx="359.0" cy="195.8" r="0.95"/><circle cx="317.9" cy="202.1" r="0.95"/><circle cx="316.0" cy="192.7" r="0.95"/><circle cx="359.8" cy="190.7" r="0.95"/><circle cx="332.5" cy="192.7" r="0.95"/><circle cx="326.1" cy="189.3" r="0.95"/><circle cx="306.2" cy="191.9" r="0.95"/><circle cx="350.1" cy="191.5" r="0.95"/><circle cx="350.5" cy="199.6" r="0.95"/><circle cx="293.1" cy="188.4" r="0.95"/><circle cx="354.3" cy="201.2" r="0.95"/><circle cx="284.3" cy="194.8" r="0.95"/><circle cx="351.4" cy="189.6" r="0.95"/><circle cx="326.2" cy="202.5" r="0.95"/><circle cx="292.7" cy="202.7" r="0.95"/><circle cx="355.5" cy="200.4" r="0.95"/><circle cx="351.6" cy="196.9" r="0.95"/><circle cx="286.9" cy="201.6" r="0.95"/><circle cx="296.1" cy="190.4" r="0.95"/><circle cx="338.1" cy="194.0" r="0.95"/><circle cx="334.1" cy="186.6" r="0.95"/><circle cx="283.1" cy="194.4" r="0.95"/><circle cx="329.7" cy="187.9" r="0.95"/><circle cx="357.6" cy="200.1" r="0.95"/><circle cx="325.7" cy="196.2" r="0.95"/><circle cx="349.3" cy="199.7" r="0.95"/><circle cx="306.7" cy="199.7" r="0.95"/><circle cx="304.9" cy="201.0" r="0.95"/><circle cx="332.3" cy="196.9" r="0.95"/><circle cx="296.3" cy="200.5" r="0.95"/><circle cx="353.1" cy="190.8" r="0.95"/><circle cx="287.1" cy="188.2" r="0.95"/><circle cx="296.6" cy="201.6" r="0.95"/><circle cx="304.9" cy="195.5" r="0.95"/><circle cx="311.0" cy="191.4" r="0.95"/><circle cx="329.2" cy="187.8" r="0.95"/><circle cx="285.2" cy="197.0" r="0.95"/><circle cx="276.3" cy="191.8" r="0.95"/><circle cx="278.0" cy="203.4" r="0.95"/><circle cx="305.5" cy="199.2" r="0.95"/><circle cx="285.7" cy="195.6" r="0.95"/><circle cx="283.2" cy="188.7" r="0.95"/><circle cx="359.1" cy="203.7" r="0.95"/><circle cx="339.3" cy="200.8" r="0.95"/><circle cx="331.8" cy="192.5" r="0.95"/><circle cx="318.7" cy="195.4" r="0.95"/><circle cx="341.9" cy="190.6" r="0.95"/><circle cx="279.0" cy="191.3" r="0.95"/><circle cx="312.2" cy="194.5" r="0.95"/><circle cx="341.0" cy="200.9" r="0.95"/><circle cx="275.1" cy="201.9" r="0.95"/><circle cx="280.9" cy="195.5" r="0.95"/><circle cx="331.6" cy="189.0" r="0.95"/><circle cx="314.2" cy="188.5" r="0.95"/><circle cx="286.7" cy="195.9" r="0.95"/><circle cx="275.3" cy="193.4" r="0.95"/><circle cx="288.5" cy="189.5" r="0.95"/><circle cx="339.1" cy="191.5" r="0.95"/><circle cx="285.2" cy="202.0" r="0.95"/><circle cx="352.2" cy="194.8" r="0.95"/><circle cx="295.4" cy="199.8" r="0.95"/><circle cx="312.1" cy="195.7" r="0.95"/><circle cx="313.6" cy="193.1" r="0.95"/><circle cx="323.1" cy="191.7" r="0.95"/><circle cx="305.5" cy="197.0" r="0.95"/><circle cx="354.9" cy="193.8" r="0.95"/><circle cx="306.3" cy="198.7" r="0.95"/><circle cx="346.2" cy="190.6" r="0.95"/><circle cx="276.3" cy="198.4" r="0.95"/><circle cx="342.1" cy="193.7" r="0.95"/><circle cx="340.2" cy="195.3" r="0.95"/><circle cx="305.1" cy="196.2" r="0.95"/><circle cx="343.7" cy="204.0" r="0.95"/><circle cx="354.5" cy="192.9" r="0.95"/><circle cx="343.2" cy="195.8" r="0.95"/><circle cx="346.2" cy="203.0" r="0.95"/><circle cx="348.4" cy="193.6" r="0.95"/><circle cx="299.8" cy="198.2" r="0.95"/><circle cx="344.5" cy="200.6" r="0.95"/><circle cx="303.9" cy="191.8" r="0.95"/><circle cx="310.0" cy="198.8" r="0.95"/><circle cx="299.7" cy="194.5" r="0.95"/><circle cx="316.7" cy="186.9" r="0.95"/><circle cx="300.1" cy="188.8" r="0.95"/><circle cx="315.8" cy="193.9" r="0.95"/><circle cx="312.6" cy="190.5" r="0.95"/><circle cx="341.6" cy="194.6" r="0.95"/><circle cx="338.7" cy="202.4" r="0.95"/><circle cx="350.8" cy="195.9" r="0.95"/><circle cx="320.2" cy="200.6" r="0.95"/><circle cx="347.8" cy="199.2" r="0.95"/><circle cx="325.7" cy="193.4" r="0.95"/><circle cx="306.8" cy="198.7" r="0.95"/><circle cx="287.2" cy="198.5" r="0.95"/><circle cx="301.0" cy="192.4" r="0.95"/><circle cx="337.2" cy="192.0" r="0.95"/><circle cx="281.9" cy="186.3" r="0.95"/><circle cx="354.3" cy="196.6" r="0.95"/><circle cx="303.7" cy="202.6" r="0.95"/><circle cx="285.5" cy="198.1" r="0.95"/><circle cx="284.3" cy="194.1" r="0.95"/><circle cx="311.9" cy="202.5" r="0.95"/><circle cx="351.9" cy="192.8" r="0.95"/><circle cx="314.0" cy="193.4" r="0.95"/><circle cx="359.1" cy="189.9" r="0.95"/><circle cx="292.8" cy="186.8" r="0.95"/><circle cx="295.1" cy="201.2" r="0.95"/><circle cx="297.3" cy="202.7" r="0.95"/><circle cx="335.8" cy="200.1" r="0.95"/><circle cx="318.2" cy="197.2" r="0.95"/><circle cx="302.5" cy="203.6" r="0.95"/><circle cx="292.9" cy="201.5" r="0.95"/><circle cx="353.5" cy="201.3" r="0.95"/><circle cx="323.1" cy="200.7" r="0.95"/><circle cx="346.0" cy="200.6" r="0.95"/><circle cx="316.4" cy="194.9" r="0.95"/><circle cx="332.3" cy="191.7" r="0.95"/><circle cx="329.2" cy="198.8" r="0.95"/><circle cx="343.1" cy="196.1" r="0.95"/><circle cx="332.7" cy="184.6" r="0.95"/><circle cx="308.7" cy="193.7" r="0.95"/><circle cx="310.3" cy="199.1" r="0.95"/><circle cx="276.8" cy="198.7" r="0.95"/><circle cx="327.0" cy="185.5" r="0.95"/><circle cx="331.3" cy="202.3" r="0.95"/><circle cx="331.6" cy="202.7" r="0.95"/><circle cx="343.9" cy="189.8" r="0.95"/><circle cx="327.1" cy="196.1" r="0.95"/><circle cx="305.8" cy="200.2" r="0.95"/><circle cx="358.6" cy="201.1" r="0.95"/><circle cx="359.0" cy="196.4" r="0.95"/><circle cx="276.0" cy="203.5" r="0.95"/><circle cx="308.5" cy="192.3" r="0.95"/><circle cx="300.9" cy="198.1" r="0.95"/><circle cx="310.9" cy="203.3" r="0.95"/><circle cx="291.6" cy="186.7" r="0.95"/><circle cx="300.6" cy="196.4" r="0.95"/><circle cx="319.4" cy="186.0" r="0.95"/><circle cx="304.6" cy="200.3" r="0.95"/><circle cx="334.4" cy="199.0" r="0.95"/><circle cx="279.7" cy="200.6" r="0.95"/><circle cx="358.9" cy="197.6" r="0.95"/><circle cx="327.9" cy="203.4" r="0.95"/><circle cx="318.3" cy="191.8" r="0.95"/><circle cx="280.9" cy="189.2" r="0.95"/><circle cx="300.7" cy="199.0" r="0.95"/><circle cx="351.8" cy="203.9" r="0.95"/><circle cx="296.5" cy="196.8" r="0.95"/><circle cx="281.4" cy="189.3" r="0.95"/><circle cx="335.8" cy="200.3" r="0.95"/><circle cx="280.1" cy="194.8" r="0.95"/><circle cx="312.8" cy="190.9" r="0.95"/><circle cx="319.6" cy="188.3" r="0.95"/><circle cx="336.1" cy="199.4" r="0.95"/><circle cx="324.1" cy="190.0" r="0.95"/><circle cx="299.4" cy="200.3" r="0.95"/><circle cx="306.1" cy="203.8" r="0.95"/><circle cx="338.7" cy="189.6" r="0.95"/><circle cx="288.8" cy="197.5" r="0.95"/><circle cx="356.0" cy="192.2" r="0.95"/><circle cx="287.5" cy="193.9" r="0.95"/><circle cx="306.2" cy="202.0" r="0.95"/><circle cx="320.2" cy="196.6" r="0.95"/><circle cx="349.1" cy="193.8" r="0.95"/><circle cx="333.3" cy="189.5" r="0.95"/><circle cx="288.2" cy="202.7" r="0.95"/><circle cx="320.9" cy="202.4" r="0.95"/><circle cx="280.7" cy="201.8" r="0.95"/><circle cx="305.0" cy="194.6" r="0.95"/><circle cx="311.7" cy="192.4" r="0.95"/><circle cx="320.3" cy="200.5" r="0.95"/><circle cx="297.3" cy="193.7" r="0.95"/><circle cx="342.2" cy="197.9" r="0.95"/><circle cx="335.6" cy="190.4" r="0.95"/><circle cx="291.9" cy="196.4" r="0.95"/><circle cx="282.6" cy="186.1" r="0.95"/><circle cx="285.2" cy="201.7" r="0.95"/><circle cx="308.0" cy="200.8" r="0.95"/><circle cx="354.9" cy="190.6" r="0.95"/><circle cx="282.1" cy="193.9" r="0.95"/><circle cx="284.7" cy="187.8" r="0.95"/><circle cx="325.4" cy="200.0" r="0.95"/><circle cx="286.6" cy="194.4" r="0.95"/><circle cx="277.4" cy="200.0" r="0.95"/><circle cx="316.4" cy="200.8" r="0.95"/><circle cx="343.3" cy="189.2" r="0.95"/><circle cx="339.8" cy="195.2" r="0.95"/><circle cx="311.6" cy="200.2" r="0.95"/><circle cx="349.8" cy="199.0" r="0.95"/><circle cx="280.4" cy="194.4" r="0.95"/><circle cx="287.4" cy="194.1" r="0.95"/><circle cx="281.8" cy="199.2" r="0.95"/><circle cx="347.4" cy="190.6" r="0.95"/><circle cx="341.9" cy="191.4" r="0.95"/><circle cx="313.9" cy="189.0" r="0.95"/><circle cx="311.0" cy="198.9" r="0.95"/><circle cx="348.5" cy="193.6" r="0.95"/><circle cx="346.2" cy="199.2" r="0.95"/><circle cx="279.1" cy="200.6" r="0.95"/><circle cx="355.0" cy="190.0" r="0.95"/><circle cx="322.4" cy="189.9" r="0.95"/><circle cx="292.4" cy="200.8" r="0.95"/><circle cx="348.9" cy="198.1" r="0.95"/><circle cx="295.9" cy="199.5" r="0.95"/><circle cx="298.7" cy="200.1" r="0.95"/><circle cx="296.9" cy="201.8" r="0.95"/><circle cx="304.3" cy="195.7" r="0.95"/><circle cx="329.9" cy="184.7" r="0.95"/><circle cx="326.8" cy="199.3" r="0.95"/><circle cx="287.0" cy="191.8" r="0.95"/><circle cx="354.1" cy="203.5" r="0.95"/><circle cx="326.2" cy="196.0" r="0.95"/><circle cx="302.5" cy="194.3" r="0.95"/><circle cx="329.4" cy="189.1" r="0.95"/><circle cx="277.4" cy="200.9" r="0.95"/><circle cx="321.4" cy="196.0" r="0.95"/><circle cx="332.5" cy="189.8" r="0.95"/><circle cx="285.5" cy="202.8" r="0.95"/><circle cx="299.9" cy="195.9" r="0.95"/><circle cx="290.1" cy="189.6" r="0.95"/><circle cx="298.6" cy="188.7" r="0.95"/><circle cx="319.4" cy="196.2" r="0.95"/><circle cx="328.0" cy="190.9" r="0.95"/><circle cx="314.3" cy="199.3" r="0.95"/><circle cx="324.6" cy="195.5" r="0.95"/><circle cx="340.1" cy="195.1" r="0.95"/><circle cx="337.3" cy="203.7" r="0.95"/><circle cx="358.3" cy="200.3" r="0.95"/><circle cx="307.6" cy="198.9" r="0.95"/><circle cx="335.9" cy="193.9" r="0.95"/><circle cx="337.9" cy="196.9" r="0.95"/><circle cx="331.6" cy="197.7" r="0.95"/><circle cx="334.7" cy="195.0" r="0.95"/><circle cx="289.1" cy="189.3" r="0.95"/><circle cx="350.3" cy="192.0" r="0.95"/><circle cx="318.8" cy="201.6" r="0.95"/><circle cx="275.5" cy="194.7" r="0.95"/><circle cx="329.1" cy="191.4" r="0.95"/><circle cx="312.4" cy="197.3" r="0.95"/><circle cx="315.0" cy="197.5" r="0.95"/><circle cx="302.4" cy="195.0" r="0.95"/><circle cx="321.4" cy="197.2" r="0.95"/><circle cx="316.3" cy="189.8" r="0.95"/><circle cx="312.1" cy="194.4" r="0.95"/><circle cx="327.6" cy="200.5" r="0.95"/><circle cx="295.1" cy="193.4" r="0.95"/><circle cx="296.6" cy="198.3" r="0.95"/><circle cx="296.7" cy="201.7" r="0.95"/><circle cx="312.2" cy="197.4" r="0.95"/><circle cx="321.5" cy="199.3" r="0.95"/><circle cx="282.8" cy="186.0" r="0.95"/><circle cx="344.4" cy="191.1" r="0.95"/><circle cx="317.0" cy="188.5" r="0.95"/><circle cx="276.1" cy="194.6" r="0.95"/><circle cx="357.1" cy="198.1" r="0.95"/><circle cx="352.2" cy="194.8" r="0.95"/><circle cx="315.7" cy="195.2" r="0.95"/><circle cx="292.0" cy="192.4" r="0.95"/><circle cx="324.8" cy="187.8" r="0.95"/><circle cx="317.9" cy="198.0" r="0.95"/><circle cx="324.7" cy="189.4" r="0.95"/><circle cx="359.5" cy="192.4" r="0.95"/><circle cx="282.2" cy="185.7" r="0.95"/><circle cx="282.1" cy="190.4" r="0.95"/><circle cx="340.0" cy="199.6" r="0.95"/><circle cx="359.4" cy="197.5" r="0.95"/><circle cx="334.6" cy="189.8" r="0.95"/><circle cx="341.2" cy="196.7" r="0.95"/><circle cx="290.7" cy="203.1" r="0.95"/><circle cx="311.7" cy="196.2" r="0.95"/><circle cx="340.2" cy="191.0" r="0.95"/><circle cx="330.8" cy="191.3" r="0.95"/><circle cx="319.5" cy="199.5" r="0.95"/><circle cx="275.6" cy="188.5" r="0.95"/><circle cx="337.1" cy="190.3" r="0.95"/><circle cx="325.7" cy="193.0" r="0.95"/><circle cx="341.5" cy="196.6" r="0.95"/><circle cx="296.5" cy="194.7" r="0.95"/><circle cx="337.7" cy="189.1" r="0.95"/><circle cx="293.8" cy="202.5" r="0.95"/><circle cx="356.8" cy="200.6" r="0.95"/><circle cx="331.2" cy="187.2" r="0.95"/><circle cx="294.8" cy="190.5" r="0.95"/><circle cx="318.1" cy="194.8" r="0.95"/><circle cx="290.7" cy="195.5" r="0.95"/><circle cx="325.5" cy="195.7" r="0.95"/><circle cx="329.7" cy="195.2" r="0.95"/><circle cx="349.7" cy="201.8" r="0.95"/><circle cx="333.5" cy="186.9" r="0.95"/><circle cx="331.1" cy="194.5" r="0.95"/><circle cx="326.5" cy="190.2" r="0.95"/><circle cx="334.1" cy="190.9" r="0.95"/><circle cx="313.0" cy="200.4" r="0.95"/><circle cx="340.1" cy="203.5" r="0.95"/><circle cx="313.0" cy="194.3" r="0.95"/><circle cx="345.3" cy="197.4" r="0.95"/><circle cx="305.9" cy="197.9" r="0.95"/><circle cx="355.7" cy="203.4" r="0.95"/><circle cx="342.1" cy="202.9" r="0.95"/><circle cx="280.8" cy="197.0" r="0.95"/><circle cx="344.9" cy="196.7" r="0.95"/><circle cx="283.0" cy="200.4" r="0.95"/><circle cx="299.5" cy="192.1" r="0.95"/><circle cx="280.0" cy="198.7" r="0.95"/><circle cx="310.6" cy="199.0" r="0.95"/><circle cx="349.1" cy="197.6" r="0.95"/><circle cx="325.8" cy="186.0" r="0.95"/><circle cx="355.1" cy="201.3" r="0.95"/><circle cx="328.3" cy="189.4" r="0.95"/><circle cx="314.9" cy="197.0" r="0.95"/><circle cx="287.7" cy="185.6" r="0.95"/><circle cx="319.5" cy="201.6" r="0.95"/><circle cx="326.6" cy="201.7" r="0.95"/><circle cx="304.5" cy="203.2" r="0.95"/><circle cx="332.9" cy="187.7" r="0.95"/><circle cx="307.7" cy="196.1" r="0.95"/><circle cx="288.6" cy="200.3" r="0.95"/><circle cx="305.0" cy="203.2" r="0.95"/><circle cx="349.6" cy="202.4" r="0.95"/><circle cx="353.9" cy="191.0" r="0.95"/><circle cx="305.9" cy="192.0" r="0.95"/><circle cx="339.0" cy="196.2" r="0.95"/><circle cx="346.4" cy="199.5" r="0.95"/><circle cx="294.9" cy="203.0" r="0.95"/><circle cx="313.1" cy="203.0" r="0.95"/><circle cx="304.5" cy="199.3" r="0.95"/><circle cx="354.8" cy="200.5" r="0.95"/><circle cx="317.0" cy="187.5" r="0.95"/><circle cx="279.3" cy="188.4" r="0.95"/><circle cx="299.3" cy="196.3" r="0.95"/><circle cx="339.3" cy="200.1" r="0.95"/><circle cx="281.7" cy="191.0" r="0.95"/><circle cx="341.6" cy="195.3" r="0.95"/><circle cx="277.3" cy="200.4" r="0.95"/><circle cx="284.0" cy="189.0" r="0.95"/><circle cx="281.3" cy="203.6" r="0.95"/><circle cx="321.2" cy="193.4" r="0.95"/><circle cx="289.6" cy="198.0" r="0.95"/><circle cx="278.6" cy="199.4" r="0.95"/><circle cx="315.6" cy="194.8" r="0.95"/><circle cx="299.6" cy="188.8" r="0.95"/><circle cx="278.1" cy="196.2" r="0.95"/><circle cx="354.8" cy="191.9" r="0.95"/><circle cx="312.0" cy="199.2" r="0.95"/><circle cx="304.1" cy="197.6" r="0.95"/><circle cx="311.3" cy="194.0" r="0.95"/><circle cx="335.7" cy="203.4" r="0.95"/><circle cx="326.7" cy="202.3" r="0.95"/><circle cx="307.9" cy="192.9" r="0.95"/><circle cx="314.7" cy="198.7" r="0.95"/><circle cx="348.0" cy="191.6" r="0.95"/><circle cx="330.9" cy="194.4" r="0.95"/><circle cx="318.3" cy="189.2" r="0.95"/><circle cx="342.4" cy="198.6" r="0.95"/><circle cx="345.4" cy="203.9" r="0.95"/><circle cx="290.4" cy="189.6" r="0.95"/><circle cx="297.6" cy="187.9" r="0.95"/><circle cx="329.7" cy="202.8" r="0.95"/><circle cx="310.9" cy="200.2" r="0.95"/><circle cx="314.5" cy="191.5" r="0.95"/><circle cx="280.9" cy="195.7" r="0.95"/><circle cx="284.9" cy="200.0" r="0.95"/><circle cx="327.7" cy="191.2" r="0.95"/><circle cx="337.2" cy="193.8" r="0.95"/><circle cx="347.3" cy="190.4" r="0.95"/><circle cx="346.0" cy="192.4" r="0.95"/><circle cx="338.7" cy="193.2" r="0.95"/><circle cx="356.1" cy="200.8" r="0.95"/><circle cx="339.6" cy="202.3" r="0.95"/><circle cx="357.3" cy="191.0" r="0.95"/><circle cx="337.8" cy="200.0" r="0.95"/><circle cx="317.6" cy="194.4" r="0.95"/><circle cx="329.0" cy="202.1" r="0.95"/><circle cx="298.0" cy="194.0" r="0.95"/><circle cx="277.4" cy="202.9" r="0.95"/><circle cx="322.3" cy="187.4" r="0.95"/><circle cx="331.5" cy="190.0" r="0.95"/><circle cx="305.8" cy="195.1" r="0.95"/><circle cx="279.7" cy="200.1" r="0.95"/><circle cx="341.7" cy="196.2" r="0.95"/><circle cx="300.2" cy="188.8" r="0.95"/><circle cx="313.3" cy="197.9" r="0.95"/><circle cx="326.3" cy="195.3" r="0.95"/><circle cx="319.3" cy="187.9" r="0.95"/><circle cx="316.0" cy="198.0" r="0.95"/><circle cx="298.4" cy="199.8" r="0.95"/><circle cx="292.3" cy="200.3" r="0.95"/><circle cx="320.0" cy="199.9" r="0.95"/><circle cx="305.4" cy="192.8" r="0.95"/><circle cx="290.0" cy="193.3" r="0.95"/><circle cx="353.1" cy="194.2" r="0.95"/><circle cx="302.2" cy="202.4" r="0.95"/><circle cx="300.3" cy="196.5" r="0.95"/><circle cx="340.7" cy="192.1" r="0.95"/><circle cx="315.1" cy="202.6" r="0.95"/><circle cx="303.7" cy="192.2" r="0.95"/><circle cx="282.3" cy="201.0" r="0.95"/><circle cx="320.0" cy="195.1" r="0.95"/><circle cx="341.4" cy="191.6" r="0.95"/><circle cx="287.1" cy="191.3" r="0.95"/><circle cx="355.9" cy="192.2" r="0.95"/><circle cx="283.8" cy="196.6" r="0.95"/><circle cx="324.6" cy="187.0" r="0.95"/><circle cx="334.0" cy="200.2" r="0.95"/><circle cx="281.4" cy="202.7" r="0.95"/><circle cx="327.7" cy="184.2" r="0.95"/><circle cx="318.6" cy="194.9" r="0.95"/><circle cx="320.6" cy="190.5" r="0.95"/><circle cx="334.6" cy="194.3" r="0.95"/><circle cx="289.7" cy="187.3" r="0.95"/><circle cx="352.4" cy="189.9" r="0.95"/><circle cx="313.7" cy="191.0" r="0.95"/><circle cx="321.4" cy="188.8" r="0.95"/><circle cx="326.2" cy="197.8" r="0.95"/><circle cx="348.6" cy="192.5" r="0.95"/><circle cx="301.3" cy="198.7" r="0.95"/><circle cx="321.9" cy="185.7" r="0.95"/><circle cx="279.9" cy="201.8" r="0.95"/><circle cx="356.3" cy="198.6" r="0.95"/><circle cx="275.5" cy="191.0" r="0.95"/><circle cx="280.7" cy="193.4" r="0.95"/><circle cx="315.8" cy="200.6" r="0.95"/><circle cx="317.4" cy="199.1" r="0.95"/><circle cx="341.0" cy="194.3" r="0.95"/><circle cx="289.7" cy="198.9" r="0.95"/><circle cx="296.3" cy="198.1" r="0.95"/><circle cx="352.1" cy="200.0" r="0.95"/><circle cx="333.6" cy="197.6" r="0.95"/><circle cx="321.6" cy="192.1" r="0.95"/><circle cx="291.1" cy="199.2" r="0.95"/><circle cx="328.9" cy="196.7" r="0.95"/><circle cx="308.6" cy="192.8" r="0.95"/><circle cx="333.5" cy="196.7" r="0.95"/><circle cx="327.0" cy="194.3" r="0.95"/><circle cx="358.9" cy="201.6" r="0.95"/><circle cx="331.6" cy="186.6" r="0.95"/><circle cx="293.0" cy="201.6" r="0.95"/><circle cx="294.2" cy="199.9" r="0.95"/><circle cx="324.8" cy="187.2" r="0.95"/><circle cx="356.9" cy="200.3" r="0.95"/><circle cx="299.9" cy="199.8" r="0.95"/><circle cx="357.8" cy="200.7" r="0.95"/><circle cx="356.1" cy="190.2" r="0.95"/><circle cx="289.7" cy="191.1" r="0.95"/><circle cx="287.6" cy="200.5" r="0.95"/><circle cx="285.5" cy="194.2" r="0.95"/><circle cx="320.3" cy="201.6" r="0.95"/><circle cx="340.7" cy="196.0" r="0.95"/><circle cx="354.8" cy="199.2" r="0.95"/><circle cx="355.8" cy="196.2" r="0.95"/><circle cx="341.9" cy="190.4" r="0.95"/><circle cx="291.9" cy="188.9" r="0.95"/><circle cx="282.7" cy="191.4" r="0.95"/><circle cx="289.4" cy="203.0" r="0.95"/><circle cx="328.8" cy="196.4" r="0.95"/><circle cx="305.9" cy="199.0" r="0.95"/><circle cx="352.5" cy="196.1" r="0.95"/><circle cx="282.2" cy="198.5" r="0.95"/><circle cx="305.1" cy="195.1" r="0.95"/><circle cx="297.8" cy="200.4" r="0.95"/><circle cx="335.7" cy="188.3" r="0.95"/><circle cx="320.0" cy="193.7" r="0.95"/><circle cx="321.2" cy="191.5" r="0.95"/><circle cx="304.7" cy="195.9" r="0.95"/><circle cx="293.0" cy="200.7" r="0.95"/><circle cx="312.1" cy="197.8" r="0.95"/><circle cx="296.7" cy="189.7" r="0.95"/><circle cx="313.5" cy="193.0" r="0.95"/><circle cx="291.8" cy="190.3" r="0.95"/><circle cx="297.4" cy="198.2" r="0.95"/><circle cx="350.3" cy="194.1" r="0.95"/><circle cx="318.1" cy="200.6" r="0.95"/><circle cx="276.5" cy="193.5" r="0.95"/><circle cx="275.5" cy="201.5" r="0.95"/><circle cx="292.8" cy="201.2" r="0.95"/><circle cx="284.5" cy="190.2" r="0.95"/><circle cx="359.3" cy="194.1" r="0.95"/><circle cx="357.9" cy="193.5" r="0.95"/><circle cx="279.1" cy="201.6" r="0.95"/><circle cx="359.7" cy="204.3" r="0.95"/><circle cx="326.9" cy="203.3" r="0.95"/><circle cx="342.5" cy="188.4" r="0.95"/><circle cx="354.4" cy="197.0" r="0.95"/><circle cx="316.4" cy="201.4" r="0.95"/><circle cx="308.4" cy="195.7" r="0.95"/><circle cx="302.2" cy="191.1" r="0.95"/><circle cx="357.1" cy="189.9" r="0.95"/><circle cx="297.3" cy="188.6" r="0.95"/><circle cx="311.2" cy="195.9" r="0.95"/><circle cx="322.2" cy="203.3" r="0.95"/><circle cx="296.7" cy="202.5" r="0.95"/><circle cx="321.2" cy="200.9" r="0.95"/><circle cx="286.0" cy="192.9" r="0.95"/><circle cx="342.0" cy="194.4" r="0.95"/><circle cx="301.5" cy="202.3" r="0.95"/><circle cx="280.8" cy="190.2" r="0.95"/><circle cx="276.8" cy="198.5" r="0.95"/><circle cx="303.2" cy="193.8" r="0.95"/><circle cx="336.3" cy="202.6" r="0.95"/><circle cx="328.6" cy="192.3" r="0.95"/><circle cx="299.8" cy="204.2" r="0.95"/><circle cx="352.2" cy="200.0" r="0.95"/><circle cx="337.5" cy="195.7" r="0.95"/><circle cx="283.9" cy="190.2" r="0.95"/><circle cx="281.9" cy="203.2" r="0.95"/><circle cx="328.8" cy="185.2" r="0.95"/><circle cx="333.4" cy="194.6" r="0.95"/><circle cx="309.8" cy="194.2" r="0.95"/><circle cx="342.3" cy="195.3" r="0.95"/><circle cx="300.1" cy="196.9" r="0.95"/><circle cx="335.6" cy="192.0" r="0.95"/><circle cx="327.8" cy="195.3" r="0.95"/><circle cx="326.8" cy="194.8" r="0.95"/><circle cx="348.4" cy="198.5" r="0.95"/><circle cx="294.7" cy="197.6" r="0.95"/><circle cx="349.8" cy="202.1" r="0.95"/><circle cx="346.9" cy="203.9" r="0.95"/><circle cx="354.9" cy="194.6" r="0.95"/><circle cx="282.7" cy="196.9" r="0.95"/><circle cx="330.6" cy="185.7" r="0.95"/><circle cx="292.5" cy="202.4" r="0.95"/><circle cx="314.7" cy="192.6" r="0.95"/><circle cx="342.7" cy="197.7" r="0.95"/><circle cx="330.6" cy="203.9" r="0.95"/><circle cx="306.8" cy="197.4" r="0.95"/><circle cx="334.0" cy="193.0" r="0.95"/><circle cx="298.3" cy="198.7" r="0.95"/><circle cx="282.4" cy="203.5" r="0.95"/><circle cx="341.3" cy="192.0" r="0.95"/><circle cx="318.3" cy="187.0" r="0.95"/><circle cx="284.8" cy="194.3" r="0.95"/><circle cx="293.5" cy="203.2" r="0.95"/><circle cx="356.4" cy="207.2" r="0.95"/><circle cx="349.3" cy="206.3" r="0.95"/><circle cx="329.1" cy="213.5" r="0.95"/><circle cx="353.5" cy="208.6" r="0.95"/><circle cx="357.3" cy="213.0" r="0.95"/><circle cx="350.0" cy="212.2" r="0.95"/><circle cx="335.8" cy="210.6" r="0.95"/><circle cx="342.0" cy="206.4" r="0.95"/><circle cx="354.6" cy="211.6" r="0.95"/><circle cx="357.2" cy="211.9" r="0.95"/><circle cx="333.7" cy="212.8" r="0.95"/><circle cx="354.5" cy="209.5" r="0.95"/><circle cx="318.5" cy="208.6" r="0.95"/><circle cx="291.1" cy="211.2" r="0.95"/><circle cx="345.3" cy="213.1" r="0.95"/><circle cx="297.2" cy="209.2" r="0.95"/><circle cx="349.0" cy="213.7" r="0.95"/><circle cx="340.3" cy="211.8" r="0.95"/><circle cx="339.9" cy="211.4" r="0.95"/><circle cx="352.9" cy="207.4" r="0.95"/><circle cx="334.2" cy="212.4" r="0.95"/><circle cx="346.9" cy="212.0" r="0.95"/><circle cx="285.6" cy="211.2" r="0.95"/><circle cx="324.7" cy="213.1" r="0.95"/><circle cx="345.3" cy="213.4" r="0.95"/><circle cx="333.7" cy="210.4" r="0.95"/></g>
<rect x="256.3" y="129.4" width="116.89999999999998" height="98.0" fill="none" stroke="#3a3a3a" stroke-width="1.3"/>
<path d="M263.1 227.4 L263.1 225.4" fill="none" stroke="#3a3a3a" stroke-width="0.9" stroke-linejoin="round" stroke-linecap="round" />
<path d="M297.3 227.4 L297.3 225.4" fill="none" stroke="#3a3a3a" stroke-width="0.9" stroke-linejoin="round" stroke-linecap="round" />
<path d="M331.5 227.4 L331.5 225.4" fill="none" stroke="#3a3a3a" stroke-width="0.9" stroke-linejoin="round" stroke-linecap="round" />
<path d="M365.7 227.4 L365.7 225.4" fill="none" stroke="#3a3a3a" stroke-width="0.9" stroke-linejoin="round" stroke-linecap="round" />
<path d="M256.3 226.6 L258.3 226.6" fill="none" stroke="#3a3a3a" stroke-width="0.9" stroke-linejoin="round" stroke-linecap="round" />
<path d="M256.3 215.9 L258.3 215.9" fill="none" stroke="#3a3a3a" stroke-width="0.9" stroke-linejoin="round" stroke-linecap="round" />
<path d="M256.3 205.3 L258.3 205.3" fill="none" stroke="#3a3a3a" stroke-width="0.9" stroke-linejoin="round" stroke-linecap="round" />
<path d="M256.3 194.6 L258.3 194.6" fill="none" stroke="#3a3a3a" stroke-width="0.9" stroke-linejoin="round" stroke-linecap="round" />
<path d="M256.3 184.0 L258.3 184.0" fill="none" stroke="#3a3a3a" stroke-width="0.9" stroke-linejoin="round" stroke-linecap="round" />
<path d="M256.3 173.3 L258.3 173.3" fill="none" stroke="#3a3a3a" stroke-width="0.9" stroke-linejoin="round" stroke-linecap="round" />
<path d="M256.3 162.7 L258.3 162.7" fill="none" stroke="#3a3a3a" stroke-width="0.9" stroke-linejoin="round" stroke-linecap="round" />
<path d="M256.3 152.1 L258.3 152.1" fill="none" stroke="#3a3a3a" stroke-width="0.9" stroke-linejoin="round" stroke-linecap="round" />
<path d="M256.3 141.4 L258.3 141.4" fill="none" stroke="#3a3a3a" stroke-width="0.9" stroke-linejoin="round" stroke-linecap="round" />
<path d="M256.3 130.8 L258.3 130.8" fill="none" stroke="#3a3a3a" stroke-width="0.9" stroke-linejoin="round" stroke-linecap="round" />
<rect x="345.4" y="131.4" width="24.9" height="23.0" fill="#fff" stroke="#333" stroke-width="1"/>
<path d="M345.6 139.3 L359 139.3" fill="none" stroke="#cc3535" stroke-width="1.0" stroke-linejoin="round" stroke-linecap="round" />
<path d="M345.6 149.8 L359 149.8" fill="none" stroke="#4545cc" stroke-width="1.1" stroke-linejoin="round" stroke-linecap="round" />
<text x="359.4" y="141.2" font-size="7.9" font-weight="bold">10<tspan dy="-3.5" font-size="5.2">2</tspan></text>
<text x="359.4" y="151.8" font-size="7.9" font-weight="bold" text-anchor="start" >10</text>
<text x="271.2" y="137.2" font-size="7.4" font-weight="bold" text-anchor="start" >(f)</text>
<text x="263.1" y="236.8" font-size="9.9" font-weight="bold" text-anchor="middle" >0</text>
<text x="297.3" y="236.8" font-size="9.9" font-weight="bold" text-anchor="middle" >1000</text>
<text x="331.5" y="236.8" font-size="9.9" font-weight="bold" text-anchor="middle" >2000</text>
<text x="365.7" y="236.8" font-size="9.9" font-weight="bold" text-anchor="middle" >3000</text>
<text x="253.8" y="144.0" font-size="9.2" font-weight="bold" text-anchor="end">10<tspan dy="-3.9" font-size="6.0">8</tspan></text>
<text x="253.8" y="165.29999999999998" font-size="9.2" font-weight="bold" text-anchor="end">10<tspan dy="-3.9" font-size="6.0">6</tspan></text>
<text x="253.8" y="186.6" font-size="9.2" font-weight="bold" text-anchor="end">10<tspan dy="-3.9" font-size="6.0">4</tspan></text>
<text x="253.8" y="207.89999999999998" font-size="9.2" font-weight="bold" text-anchor="end">10<tspan dy="-3.9" font-size="6.0">2</tspan></text>
<text x="253.8" y="229.2" font-size="9.2" font-weight="bold" text-anchor="end">10<tspan dy="-3.9" font-size="6.0">0</tspan></text>
<text x="314.8" y="248.5" font-size="10.1" font-weight="bold" text-anchor="middle" >Number of Cycles</text>
<text x="0" y="0" font-size="10.6" font-weight="bold" text-anchor="middle" dominant-baseline="central" transform="translate(234.2,183.6) rotate(-90)">on/off ratio</text>
</svg>
</body></html>
